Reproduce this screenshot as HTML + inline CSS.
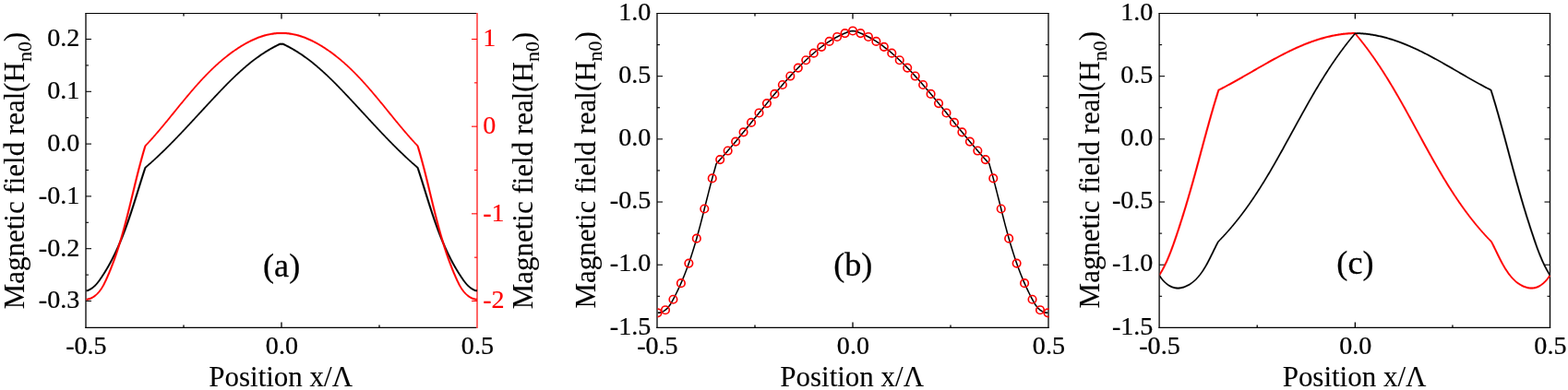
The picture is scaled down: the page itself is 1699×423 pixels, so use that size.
<!DOCTYPE html>
<html lang="en">
<head>
<meta charset="utf-8">
<title>Magnetic field real part vs position</title>
<style>
html,body{margin:0;padding:0;background:#fff;}
body{width:1699px;height:423px;overflow:hidden;}
svg{display:block;}
</style>
</head>
<body>
<svg width="1699" height="423" viewBox="0 0 1699 423" font-family='"Liberation Serif", serif'>
<rect width="1699" height="423" fill="#fff"/>
<defs>
<clipPath id="clipa"><rect x="93.5" y="14.5" width="424.1" height="340.9"/></clipPath>
<clipPath id="clipb"><rect x="712.5" y="14.5" width="424.1" height="340.9"/></clipPath>
<clipPath id="clipc"><rect x="1256.6" y="14.5" width="423.5" height="340.9"/></clipPath>
</defs>
<line x1="92.35" y1="14.5" x2="516.35" y2="14.5" stroke="#000" stroke-width="1.08"/>
<line x1="92.35" y1="355.4" x2="516.35" y2="355.4" stroke="#000" stroke-width="1.08"/>
<line x1="93" y1="14.5" x2="93" y2="355.94" stroke="#000" stroke-width="1.3"/>
<line x1="517" y1="13.96" x2="517" y2="355.94" stroke="#f00" stroke-width="1.2"/>
<line x1="199" y1="355.4" x2="199" y2="352.4" stroke="#000" stroke-width="1.3"/>
<line x1="199" y1="14.5" x2="199" y2="17.5" stroke="#000" stroke-width="1.3"/>
<line x1="305" y1="355.4" x2="305" y2="349.4" stroke="#000" stroke-width="1.3"/>
<line x1="305" y1="14.5" x2="305" y2="20.5" stroke="#000" stroke-width="1.3"/>
<line x1="411" y1="355.4" x2="411" y2="352.4" stroke="#000" stroke-width="1.3"/>
<line x1="411" y1="14.5" x2="411" y2="17.5" stroke="#000" stroke-width="1.3"/>
<line x1="93" y1="326.5" x2="99" y2="326.5" stroke="#000" stroke-width="1.08"/>
<line x1="93" y1="298.1" x2="96" y2="298.1" stroke="#000" stroke-width="1.08"/>
<line x1="93" y1="269.7" x2="99" y2="269.7" stroke="#000" stroke-width="1.08"/>
<line x1="93" y1="241.3" x2="96" y2="241.3" stroke="#000" stroke-width="1.08"/>
<line x1="93" y1="212.9" x2="99" y2="212.9" stroke="#000" stroke-width="1.08"/>
<line x1="93" y1="184.5" x2="96" y2="184.5" stroke="#000" stroke-width="1.08"/>
<line x1="93" y1="156.1" x2="99" y2="156.1" stroke="#000" stroke-width="1.08"/>
<line x1="93" y1="127.7" x2="96" y2="127.7" stroke="#000" stroke-width="1.08"/>
<line x1="93" y1="99.3" x2="99" y2="99.3" stroke="#000" stroke-width="1.08"/>
<line x1="93" y1="70.9" x2="96" y2="70.9" stroke="#000" stroke-width="1.08"/>
<line x1="93" y1="42.5" x2="99" y2="42.5" stroke="#000" stroke-width="1.08"/>
<line x1="517" y1="326.5" x2="511" y2="326.5" stroke="#f00" stroke-width="1.08"/>
<line x1="517" y1="279.17" x2="514" y2="279.17" stroke="#f00" stroke-width="1.08"/>
<line x1="517" y1="231.83" x2="511" y2="231.83" stroke="#f00" stroke-width="1.08"/>
<line x1="517" y1="184.5" x2="514" y2="184.5" stroke="#f00" stroke-width="1.08"/>
<line x1="517" y1="137.17" x2="511" y2="137.17" stroke="#f00" stroke-width="1.08"/>
<line x1="517" y1="89.83" x2="514" y2="89.83" stroke="#f00" stroke-width="1.08"/>
<line x1="517" y1="42.5" x2="511" y2="42.5" stroke="#f00" stroke-width="1.08"/>
<path d="M93.18,316.33 L94.04,316.20 L94.99,316.04 L95.97,315.68 L96.91,315.31 L97.78,314.83 L98.63,314.36 L99.47,313.78 L100.30,313.21 L101.05,312.61 L101.79,312.00 L102.52,311.32 L103.26,310.64 L103.93,309.95 L104.60,309.27 L105.27,308.51 L105.93,307.76 L106.54,307.01 L107.15,306.26 L107.73,305.49 L108.31,304.72 L108.90,303.89 L109.49,303.07 L110.03,302.27 L110.57,301.48 L111.13,300.64 L111.69,299.80 L112.21,299.00 L112.74,298.20 L113.28,297.35 L113.81,296.50 L114.32,295.69 L114.82,294.89 L115.34,294.03 L115.86,293.18 L116.35,292.36 L116.83,291.54 L117.31,290.73 L117.79,289.91 L118.28,289.04 L118.78,288.17 L119.24,287.35 L119.70,286.52 L120.17,285.65 L120.65,284.78 L121.10,283.95 L121.54,283.11 L122.00,282.24 L122.46,281.36 L122.89,280.52 L123.32,279.68 L123.77,278.80 L124.21,277.91 L124.63,277.07 L125.04,276.22 L125.45,275.38 L125.86,274.53 L126.28,273.64 L126.70,272.74 L127.10,271.89 L127.49,271.04 L127.90,270.14 L128.31,269.24 L128.70,268.38 L129.08,267.53 L129.47,266.62 L129.87,265.72 L130.24,264.86 L130.61,264.00 L131.00,263.09 L131.38,262.18 L131.74,261.31 L132.10,260.45 L132.45,259.58 L132.81,258.71 L133.18,257.80 L133.54,256.88 L133.89,256.01 L134.23,255.14 L134.59,254.22 L134.95,253.30 L135.28,252.43 L135.61,251.55 L135.96,250.63 L136.31,249.70 L136.64,248.83 L136.96,247.95 L137.28,247.07 L137.61,246.19 L137.94,245.26 L138.28,244.33 L138.59,243.45 L138.91,242.57 L139.23,241.63 L139.56,240.70 L139.87,239.82 L140.18,238.93 L140.50,238.00 L140.82,237.07 L141.12,236.18 L141.42,235.29 L141.73,234.35 L142.05,233.42 L142.34,232.53 L142.64,231.64 L142.93,230.75 L143.23,229.86 L143.53,228.92 L143.84,227.98 L144.13,227.09 L144.42,226.19 L144.72,225.25 L145.02,224.31 L145.31,223.42 L145.60,222.52 L145.89,221.58 L146.19,220.64 L146.48,219.75 L146.76,218.85 L147.06,217.91 L147.35,216.97 L147.63,216.07 L147.91,215.17 L148.19,214.28 L148.47,213.38 L148.77,212.44 L149.06,211.49 L149.34,210.60 L149.62,209.70 L149.91,208.76 L150.20,207.81 L150.48,206.92 L150.76,206.02 L151.05,205.08 L151.34,204.13 L151.62,203.24 L151.90,202.34 L152.20,201.40 L152.49,200.45 L152.77,199.56 L153.05,198.66 L153.33,197.76 L153.61,196.87 L153.90,195.93 L154.20,194.98 L154.48,194.09 L154.77,193.19 L155.06,192.25 L155.36,191.31 L155.65,190.42 L155.93,189.52 L156.23,188.58 L156.54,187.64 L156.83,186.75 L157.11,185.86 L157.42,184.92 L157.72,183.98 L157.99,183.08 L158.24,182.23 L158.05,182.50 L158.98,181.66 L159.91,180.83 L160.88,179.97 L161.86,179.11 L162.80,178.28 L163.73,177.45 L164.66,176.61 L165.58,175.78 L166.51,174.94 L167.43,174.09 L168.38,173.21 L169.34,172.33 L170.25,171.48 L171.16,170.63 L172.07,169.77 L172.97,168.91 L173.91,168.02 L174.85,167.12 L175.75,166.26 L176.65,165.39 L177.54,164.52 L178.43,163.65 L179.32,162.77 L180.21,161.90 L181.13,160.99 L182.05,160.07 L182.93,159.19 L183.81,158.31 L184.69,157.42 L185.57,156.54 L186.48,155.62 L187.39,154.69 L188.26,153.80 L189.14,152.91 L190.00,152.02 L190.87,151.12 L191.77,150.19 L192.67,149.26 L193.54,148.36 L194.40,147.46 L195.26,146.55 L196.12,145.65 L196.98,144.75 L197.84,143.84 L198.73,142.90 L199.62,141.96 L200.47,141.05 L201.33,140.14 L202.18,139.23 L203.03,138.32 L203.92,137.37 L204.80,136.42 L205.65,135.51 L206.50,134.60 L207.35,133.68 L208.20,132.77 L209.04,131.85 L209.89,130.94 L210.77,129.99 L211.65,129.03 L212.49,128.12 L213.34,127.20 L214.19,126.28 L215.03,125.37 L215.91,124.41 L216.79,123.46 L217.63,122.54 L218.48,121.63 L219.32,120.71 L220.17,119.79 L221.01,118.88 L221.86,117.96 L222.74,117.01 L223.62,116.06 L224.46,115.14 L225.31,114.23 L226.16,113.31 L227.00,112.40 L227.88,111.45 L228.77,110.50 L229.62,109.59 L230.47,108.68 L231.32,107.77 L232.17,106.86 L233.05,105.91 L233.94,104.97 L234.79,104.06 L235.65,103.16 L236.51,102.25 L237.36,101.35 L238.22,100.45 L239.08,99.55 L239.97,98.61 L240.87,97.67 L241.73,96.78 L242.60,95.88 L243.46,94.99 L244.33,94.10 L245.23,93.17 L246.14,92.25 L247.01,91.37 L247.89,90.48 L248.76,89.61 L249.64,88.73 L250.53,87.86 L251.41,86.99 L252.34,86.09 L253.26,85.19 L254.15,84.33 L255.05,83.47 L255.95,82.62 L256.85,81.77 L257.79,80.90 L258.73,80.02 L259.65,79.19 L260.56,78.35 L261.48,77.53 L262.40,76.70 L263.32,75.89 L264.25,75.07 L265.22,74.23 L266.19,73.39 L267.13,72.60 L268.08,71.80 L269.03,71.02 L269.98,70.23 L270.97,69.43 L271.97,68.62 L272.94,67.86 L273.90,67.10 L274.88,66.35 L275.86,65.60 L276.88,64.84 L277.91,64.07 L278.91,63.35 L279.90,62.63 L280.91,61.92 L281.92,61.21 L282.93,60.52 L283.95,59.82 L285.02,59.12 L286.09,58.41 L287.13,57.75 L288.17,57.08 L289.22,56.43 L290.27,55.79 L291.38,55.13 L292.48,54.47 L293.56,53.86 L294.63,53.24 L295.72,52.65 L296.81,52.05 L297.91,51.47 L299.02,50.89 L300.18,50.31 L301.34,49.73 L302.48,49.20 L303.42,48.74 L304.40,48.78 L305.60,48.78 L306.58,48.74 L307.52,49.20 L308.66,49.73 L309.82,50.31 L310.98,50.89 L312.09,51.47 L313.19,52.05 L314.28,52.65 L315.37,53.24 L316.44,53.86 L317.52,54.47 L318.62,55.13 L319.73,55.79 L320.78,56.43 L321.83,57.08 L322.87,57.75 L323.91,58.41 L324.98,59.12 L326.05,59.82 L327.07,60.52 L328.08,61.21 L329.09,61.92 L330.10,62.63 L331.09,63.35 L332.09,64.07 L333.12,64.84 L334.14,65.60 L335.12,66.35 L336.10,67.10 L337.06,67.86 L338.03,68.62 L339.03,69.43 L340.02,70.23 L340.97,71.02 L341.92,71.80 L342.87,72.60 L343.81,73.39 L344.78,74.23 L345.75,75.07 L346.68,75.89 L347.60,76.70 L348.52,77.53 L349.44,78.35 L350.35,79.19 L351.27,80.02 L352.21,80.90 L353.15,81.77 L354.05,82.62 L354.95,83.47 L355.85,84.33 L356.74,85.19 L357.66,86.09 L358.59,86.99 L359.47,87.86 L360.36,88.73 L361.24,89.61 L362.11,90.48 L362.99,91.37 L363.86,92.25 L364.77,93.17 L365.67,94.10 L366.54,94.99 L367.40,95.88 L368.27,96.78 L369.13,97.67 L370.03,98.61 L370.92,99.55 L371.78,100.45 L372.64,101.35 L373.49,102.25 L374.35,103.16 L375.21,104.06 L376.06,104.97 L376.95,105.91 L377.83,106.86 L378.68,107.77 L379.53,108.68 L380.38,109.59 L381.23,110.50 L382.12,111.45 L383.00,112.40 L383.84,113.31 L384.69,114.23 L385.54,115.14 L386.38,116.06 L387.26,117.01 L388.14,117.96 L388.99,118.88 L389.83,119.79 L390.68,120.71 L391.52,121.63 L392.37,122.54 L393.21,123.46 L394.09,124.41 L394.97,125.37 L395.81,126.28 L396.66,127.20 L397.51,128.12 L398.35,129.03 L399.23,129.99 L400.11,130.94 L400.96,131.85 L401.80,132.77 L402.65,133.68 L403.50,134.60 L404.35,135.51 L405.20,136.42 L406.08,137.37 L406.97,138.32 L407.82,139.23 L408.67,140.14 L409.53,141.05 L410.38,141.96 L411.27,142.90 L412.16,143.84 L413.02,144.75 L413.88,145.65 L414.74,146.55 L415.60,147.46 L416.46,148.36 L417.33,149.26 L418.23,150.19 L419.13,151.12 L420.00,152.02 L420.86,152.91 L421.74,153.80 L422.61,154.69 L423.52,155.62 L424.43,156.54 L425.31,157.42 L426.19,158.31 L427.07,159.19 L427.95,160.07 L428.87,160.99 L429.79,161.90 L430.68,162.77 L431.57,163.65 L432.46,164.52 L433.35,165.39 L434.25,166.26 L435.15,167.12 L436.09,168.02 L437.03,168.91 L437.93,169.77 L438.84,170.63 L439.75,171.48 L440.66,172.33 L441.62,173.21 L442.57,174.09 L443.49,174.94 L444.42,175.78 L445.34,176.61 L446.27,177.45 L447.20,178.28 L448.14,179.11 L449.12,179.97 L450.09,180.83 L451.02,181.66 L451.95,182.50 L451.76,182.23 L452.01,183.08 L452.28,183.98 L452.58,184.92 L452.89,185.86 L453.17,186.75 L453.46,187.64 L453.77,188.58 L454.07,189.52 L454.35,190.42 L454.64,191.31 L454.94,192.25 L455.23,193.19 L455.52,194.09 L455.80,194.98 L456.10,195.93 L456.39,196.87 L456.67,197.76 L456.95,198.66 L457.23,199.56 L457.51,200.45 L457.80,201.40 L458.10,202.34 L458.38,203.24 L458.66,204.13 L458.95,205.08 L459.24,206.02 L459.52,206.92 L459.80,207.81 L460.09,208.76 L460.38,209.70 L460.66,210.60 L460.94,211.49 L461.23,212.44 L461.53,213.38 L461.81,214.28 L462.09,215.17 L462.37,216.07 L462.65,216.97 L462.94,217.91 L463.24,218.85 L463.52,219.75 L463.81,220.64 L464.11,221.58 L464.40,222.52 L464.69,223.42 L464.98,224.31 L465.28,225.25 L465.58,226.19 L465.87,227.09 L466.16,227.98 L466.47,228.92 L466.77,229.86 L467.07,230.75 L467.36,231.64 L467.66,232.53 L467.95,233.42 L468.27,234.35 L468.58,235.29 L468.88,236.18 L469.18,237.07 L469.50,238.00 L469.82,238.93 L470.13,239.82 L470.44,240.70 L470.77,241.63 L471.09,242.57 L471.41,243.45 L471.72,244.33 L472.06,245.26 L472.39,246.19 L472.72,247.07 L473.04,247.95 L473.36,248.83 L473.69,249.70 L474.04,250.63 L474.39,251.55 L474.72,252.43 L475.05,253.30 L475.41,254.22 L475.77,255.14 L476.11,256.01 L476.46,256.88 L476.82,257.80 L477.19,258.71 L477.55,259.58 L477.90,260.45 L478.26,261.31 L478.62,262.18 L479.00,263.09 L479.39,264.00 L479.76,264.86 L480.13,265.72 L480.53,266.62 L480.92,267.53 L481.30,268.38 L481.69,269.24 L482.10,270.14 L482.51,271.04 L482.90,271.89 L483.30,272.74 L483.72,273.64 L484.14,274.53 L484.55,275.38 L484.96,276.22 L485.37,277.07 L485.79,277.91 L486.23,278.80 L486.68,279.68 L487.11,280.52 L487.54,281.36 L488.00,282.24 L488.46,283.11 L488.90,283.95 L489.35,284.78 L489.83,285.65 L490.30,286.52 L490.76,287.35 L491.22,288.17 L491.72,289.04 L492.21,289.91 L492.69,290.73 L493.17,291.54 L493.65,292.36 L494.14,293.18 L494.66,294.03 L495.18,294.89 L495.68,295.69 L496.19,296.50 L496.72,297.35 L497.26,298.20 L497.79,299.00 L498.31,299.80 L498.87,300.64 L499.43,301.48 L499.97,302.27 L500.51,303.07 L501.10,303.89 L501.69,304.72 L502.27,305.49 L502.85,306.26 L503.46,307.01 L504.07,307.76 L504.73,308.51 L505.40,309.27 L506.07,309.95 L506.74,310.64 L507.48,311.32 L508.21,312.00 L508.95,312.61 L509.70,313.21 L510.53,313.78 L511.37,314.36 L512.22,314.83 L513.09,315.31 L514.03,315.68 L515.01,316.04 L515.96,316.20 L516.82,316.33 L517.11,314.37 L516.25,314.25 L515.49,314.16 L514.68,313.88 L513.84,313.60 L513.08,313.22 L512.29,312.82 L511.50,312.32 L510.71,311.81 L510.00,311.27 L509.29,310.73 L508.58,310.10 L507.87,309.47 L507.24,308.82 L506.61,308.16 L505.98,307.43 L505.35,306.69 L504.77,305.96 L504.20,305.22 L503.64,304.47 L503.08,303.71 L502.51,302.90 L501.94,302.08 L501.41,301.29 L500.88,300.51 L500.33,299.67 L499.78,298.84 L499.27,298.04 L498.75,297.25 L498.22,296.40 L497.69,295.56 L497.19,294.76 L496.70,293.96 L496.18,293.11 L495.67,292.26 L495.19,291.45 L494.71,290.64 L494.24,289.82 L493.77,289.01 L493.29,288.15 L492.80,287.29 L492.35,286.47 L491.89,285.65 L491.42,284.78 L490.95,283.92 L490.51,283.09 L490.07,282.26 L489.62,281.39 L489.17,280.52 L488.74,279.68 L488.32,278.85 L487.88,277.97 L487.44,277.09 L487.03,276.25 L486.62,275.42 L486.22,274.57 L485.81,273.73 L485.40,272.85 L484.98,271.96 L484.59,271.11 L484.20,270.26 L483.79,269.37 L483.39,268.48 L483.01,267.63 L482.63,266.77 L482.24,265.87 L481.85,264.98 L481.48,264.12 L481.12,263.26 L480.74,262.36 L480.36,261.45 L480.00,260.59 L479.64,259.73 L479.29,258.87 L478.94,258.01 L478.58,257.10 L478.21,256.19 L477.87,255.32 L477.53,254.45 L477.18,253.54 L476.83,252.62 L476.49,251.75 L476.16,250.88 L475.82,249.96 L475.47,249.04 L475.15,248.17 L474.83,247.29 L474.51,246.41 L474.19,245.54 L473.85,244.61 L473.52,243.69 L473.21,242.81 L472.90,241.93 L472.57,241.00 L472.25,240.07 L471.94,239.19 L471.64,238.31 L471.32,237.38 L471.00,236.45 L470.70,235.56 L470.40,234.68 L470.09,233.74 L469.77,232.81 L469.48,231.92 L469.18,231.03 L468.89,230.15 L468.60,229.26 L468.29,228.32 L467.99,227.38 L467.70,226.49 L467.41,225.60 L467.11,224.66 L466.81,223.72 L466.53,222.83 L466.24,221.94 L465.94,221.00 L465.64,220.06 L465.36,219.17 L465.08,218.27 L464.78,217.33 L464.49,216.39 L464.21,215.49 L463.93,214.60 L463.65,213.70 L463.37,212.81 L463.08,211.86 L462.78,210.92 L462.50,210.02 L462.23,209.13 L461.93,208.18 L461.64,207.24 L461.36,206.34 L461.08,205.45 L460.79,204.50 L460.50,203.56 L460.22,202.66 L459.94,201.77 L459.65,200.82 L459.35,199.88 L459.07,198.98 L458.79,198.08 L458.51,197.19 L458.23,196.29 L457.93,195.35 L457.64,194.40 L457.36,193.51 L457.07,192.61 L456.77,191.67 L456.47,190.73 L456.19,189.83 L455.90,188.94 L455.60,187.99 L455.29,187.05 L455.01,186.16 L454.72,185.26 L454.41,184.32 L454.10,183.38 L453.78,182.50 L453.45,181.57 L453.10,181.17 L452.14,180.37 L451.18,179.58 L450.20,178.73 L449.23,177.87 L448.30,177.05 L447.37,176.22 L446.44,175.39 L445.52,174.56 L444.60,173.73 L443.68,172.89 L442.72,172.01 L441.77,171.14 L440.86,170.29 L439.95,169.44 L439.05,168.59 L438.14,167.74 L437.21,166.85 L436.27,165.95 L435.37,165.09 L434.48,164.23 L433.58,163.36 L432.69,162.50 L431.81,161.63 L430.92,160.76 L430.00,159.85 L429.08,158.94 L428.20,158.06 L427.32,157.18 L426.45,156.30 L425.57,155.41 L424.66,154.49 L423.76,153.57 L422.89,152.68 L422.02,151.79 L421.15,150.89 L420.29,150.00 L419.39,149.07 L418.49,148.14 L417.63,147.24 L416.77,146.34 L415.91,145.44 L415.05,144.54 L414.20,143.63 L413.34,142.73 L412.45,141.79 L411.56,140.84 L410.71,139.94 L409.86,139.03 L409.01,138.12 L408.16,137.21 L407.27,136.26 L406.39,135.31 L405.54,134.40 L404.70,133.49 L403.85,132.57 L403.00,131.66 L402.15,130.75 L401.31,129.83 L400.43,128.88 L399.55,127.93 L398.70,127.01 L397.86,126.09 L397.01,125.18 L396.17,124.26 L395.29,123.31 L394.41,122.35 L393.57,121.44 L392.72,120.52 L391.88,119.60 L391.03,118.69 L390.19,117.77 L389.34,116.85 L388.46,115.90 L387.58,114.95 L386.73,114.03 L385.89,113.12 L385.04,112.20 L384.19,111.29 L383.31,110.34 L382.43,109.39 L381.57,108.48 L380.72,107.57 L379.87,106.66 L379.02,105.75 L378.13,104.80 L377.24,103.86 L376.39,102.95 L375.53,102.04 L374.67,101.14 L373.81,100.23 L372.95,99.33 L372.09,98.43 L371.19,97.49 L370.30,96.56 L369.43,95.66 L368.56,94.76 L367.69,93.87 L366.82,92.97 L365.91,92.05 L365.01,91.12 L364.13,90.24 L363.25,89.35 L362.37,88.47 L361.49,87.59 L360.60,86.72 L359.72,85.84 L358.79,84.93 L357.86,84.03 L356.97,83.17 L356.07,82.30 L355.17,81.45 L354.26,80.59 L353.32,79.71 L352.37,78.82 L351.46,77.98 L350.54,77.14 L349.62,76.31 L348.70,75.47 L347.77,74.65 L346.84,73.83 L345.86,72.98 L344.89,72.13 L343.94,71.33 L343.00,70.52 L342.04,69.73 L341.09,68.93 L340.09,68.12 L339.09,67.31 L338.11,66.54 L337.14,65.76 L336.16,65.00 L335.18,64.24 L334.14,63.47 L333.11,62.69 L332.11,61.96 L331.11,61.23 L330.09,60.51 L329.08,59.79 L328.05,59.08 L327.03,58.37 L325.95,57.65 L324.87,56.94 L323.83,56.26 L322.78,55.58 L321.72,54.92 L320.66,54.26 L319.54,53.59 L318.42,52.92 L317.34,52.30 L316.25,51.67 L315.15,51.06 L314.05,50.45 L312.94,49.86 L311.83,49.26 L310.65,48.67 L309.49,48.06 L308.35,47.49 L307.02,46.86 L305.60,46.82 L304.40,46.82 L302.98,46.86 L301.65,47.49 L300.51,48.06 L299.35,48.67 L298.17,49.26 L297.06,49.86 L295.95,50.45 L294.85,51.06 L293.75,51.67 L292.66,52.30 L291.58,52.92 L290.46,53.59 L289.34,54.26 L288.28,54.92 L287.22,55.58 L286.17,56.26 L285.13,56.94 L284.05,57.65 L282.97,58.37 L281.95,59.08 L280.92,59.79 L279.91,60.51 L278.89,61.23 L277.89,61.96 L276.89,62.69 L275.86,63.47 L274.82,64.24 L273.84,65.00 L272.86,65.76 L271.89,66.54 L270.91,67.31 L269.91,68.12 L268.91,68.93 L267.96,69.73 L267.00,70.52 L266.06,71.33 L265.11,72.13 L264.14,72.98 L263.16,73.83 L262.23,74.65 L261.30,75.47 L260.38,76.31 L259.46,77.14 L258.54,77.98 L257.63,78.82 L256.68,79.71 L255.74,80.59 L254.83,81.45 L253.93,82.30 L253.03,83.17 L252.14,84.03 L251.21,84.93 L250.28,85.84 L249.40,86.72 L248.51,87.59 L247.63,88.47 L246.75,89.35 L245.87,90.24 L244.99,91.12 L244.09,92.05 L243.18,92.97 L242.31,93.87 L241.44,94.76 L240.57,95.66 L239.70,96.56 L238.81,97.49 L237.91,98.43 L237.05,99.33 L236.19,100.23 L235.33,101.14 L234.47,102.04 L233.61,102.95 L232.76,103.86 L231.87,104.80 L230.98,105.75 L230.13,106.66 L229.28,107.57 L228.43,108.48 L227.57,109.39 L226.69,110.34 L225.81,111.29 L224.96,112.20 L224.11,113.12 L223.27,114.03 L222.42,114.95 L221.54,115.90 L220.66,116.85 L219.81,117.77 L218.97,118.69 L218.12,119.60 L217.28,120.52 L216.43,121.44 L215.59,122.35 L214.71,123.31 L213.83,124.26 L212.99,125.18 L212.14,126.09 L211.30,127.01 L210.45,127.93 L209.57,128.88 L208.69,129.83 L207.85,130.75 L207.00,131.66 L206.15,132.57 L205.30,133.49 L204.46,134.40 L203.61,135.31 L202.73,136.26 L201.84,137.21 L200.99,138.12 L200.14,139.03 L199.29,139.94 L198.44,140.84 L197.55,141.79 L196.66,142.73 L195.80,143.63 L194.95,144.54 L194.09,145.44 L193.23,146.34 L192.37,147.24 L191.51,148.14 L190.61,149.07 L189.71,150.00 L188.85,150.89 L187.98,151.79 L187.11,152.68 L186.24,153.57 L185.34,154.49 L184.43,155.41 L183.55,156.30 L182.68,157.18 L181.80,158.06 L180.92,158.94 L180.00,159.85 L179.08,160.76 L178.19,161.63 L177.31,162.50 L176.42,163.36 L175.52,164.23 L174.63,165.09 L173.73,165.95 L172.79,166.85 L171.86,167.74 L170.95,168.59 L170.05,169.44 L169.14,170.29 L168.23,171.14 L167.28,172.01 L166.32,172.89 L165.40,173.73 L164.48,174.56 L163.56,175.39 L162.63,176.22 L161.70,177.05 L160.77,177.87 L159.80,178.73 L158.82,179.58 L157.86,180.37 L156.90,181.17 L156.55,181.57 L156.22,182.50 L155.90,183.38 L155.59,184.32 L155.28,185.26 L154.99,186.16 L154.71,187.05 L154.40,187.99 L154.10,188.94 L153.81,189.83 L153.53,190.73 L153.23,191.67 L152.93,192.61 L152.64,193.51 L152.36,194.40 L152.07,195.35 L151.77,196.29 L151.49,197.19 L151.21,198.08 L150.93,198.98 L150.65,199.88 L150.35,200.82 L150.06,201.77 L149.78,202.66 L149.50,203.56 L149.21,204.50 L148.92,205.45 L148.64,206.34 L148.36,207.24 L148.07,208.18 L147.77,209.13 L147.50,210.02 L147.22,210.92 L146.92,211.86 L146.63,212.81 L146.35,213.70 L146.07,214.60 L145.79,215.49 L145.51,216.39 L145.22,217.33 L144.92,218.27 L144.64,219.17 L144.36,220.06 L144.06,221.00 L143.76,221.94 L143.47,222.83 L143.19,223.72 L142.89,224.66 L142.59,225.60 L142.30,226.49 L142.01,227.38 L141.71,228.32 L141.40,229.26 L141.11,230.15 L140.82,231.03 L140.52,231.92 L140.23,232.81 L139.91,233.74 L139.60,234.68 L139.30,235.56 L139.00,236.45 L138.68,237.38 L138.36,238.31 L138.06,239.19 L137.75,240.07 L137.43,241.00 L137.10,241.93 L136.79,242.81 L136.48,243.69 L136.15,244.61 L135.81,245.54 L135.49,246.41 L135.17,247.29 L134.85,248.17 L134.53,249.04 L134.18,249.96 L133.84,250.88 L133.51,251.75 L133.17,252.62 L132.82,253.54 L132.47,254.45 L132.13,255.32 L131.79,256.19 L131.42,257.10 L131.06,258.01 L130.71,258.87 L130.36,259.73 L130.00,260.59 L129.64,261.45 L129.26,262.36 L128.88,263.26 L128.52,264.12 L128.15,264.98 L127.76,265.87 L127.37,266.77 L126.99,267.63 L126.61,268.48 L126.21,269.37 L125.80,270.26 L125.41,271.11 L125.02,271.96 L124.60,272.85 L124.19,273.73 L123.78,274.57 L123.38,275.42 L122.97,276.25 L122.56,277.09 L122.12,277.97 L121.68,278.85 L121.26,279.68 L120.83,280.52 L120.38,281.39 L119.93,282.26 L119.49,283.09 L119.05,283.92 L118.58,284.78 L118.11,285.65 L117.65,286.47 L117.20,287.29 L116.71,288.15 L116.23,289.01 L115.76,289.82 L115.29,290.64 L114.81,291.45 L114.33,292.26 L113.82,293.11 L113.30,293.96 L112.81,294.76 L112.31,295.56 L111.78,296.40 L111.25,297.25 L110.73,298.04 L110.22,298.84 L109.67,299.67 L109.12,300.51 L108.59,301.29 L108.06,302.08 L107.49,302.90 L106.92,303.71 L106.36,304.47 L105.80,305.22 L105.23,305.96 L104.65,306.69 L104.02,307.43 L103.39,308.16 L102.76,308.82 L102.13,309.47 L101.42,310.10 L100.71,310.73 L100.00,311.27 L99.29,311.81 L98.50,312.32 L97.71,312.82 L96.92,313.22 L96.16,313.60 L95.32,313.88 L94.51,314.16 L93.75,314.25 L92.89,314.37Z" fill="#000" stroke="#000" stroke-width="0.15" stroke-linejoin="round" clip-path="url(#clipa)"/>
<path d="M93.13,325.82 L94.21,325.70 L95.36,325.57 L96.50,325.24 L97.63,324.90 L98.73,324.41 L99.81,323.91 L100.85,323.28 L101.89,322.65 L102.86,321.91 L103.83,321.18 L104.73,320.37 L105.63,319.57 L106.45,318.71 L107.28,317.86 L108.05,316.95 L108.81,316.05 L109.51,315.10 L110.21,314.15 L110.89,313.11 L111.56,312.07 L112.15,311.05 L112.74,310.03 L113.30,308.98 L113.85,307.93 L114.37,306.87 L114.89,305.81 L115.39,304.74 L115.88,303.67 L116.37,302.59 L116.85,301.52 L117.32,300.44 L117.79,299.37 L118.26,298.29 L118.72,297.21 L119.17,296.13 L119.62,295.05 L120.07,293.96 L120.51,292.88 L120.94,291.80 L121.38,290.71 L121.80,289.62 L122.23,288.53 L122.65,287.44 L123.06,286.35 L123.47,285.26 L123.88,284.17 L124.28,283.08 L124.68,281.98 L125.07,280.89 L125.47,279.79 L125.85,278.69 L126.24,277.59 L126.62,276.49 L126.99,275.39 L127.36,274.29 L127.73,273.19 L128.10,272.09 L128.46,270.98 L128.84,269.82 L129.21,268.66 L129.56,267.56 L129.91,266.45 L130.26,265.34 L130.60,264.23 L130.94,263.12 L131.28,262.01 L131.61,260.90 L131.95,259.79 L132.28,258.68 L132.60,257.57 L132.93,256.45 L133.25,255.34 L133.57,254.23 L133.88,253.11 L134.20,251.99 L134.51,250.88 L134.82,249.76 L135.13,248.64 L135.43,247.53 L135.74,246.41 L136.04,245.29 L136.34,244.17 L136.64,243.05 L136.93,241.93 L137.23,240.81 L137.52,239.69 L137.81,238.57 L138.10,237.45 L138.39,236.32 L138.68,235.20 L138.96,234.08 L139.25,232.96 L139.53,231.83 L139.81,230.71 L140.09,229.59 L140.37,228.46 L140.65,227.34 L140.93,226.21 L141.22,225.03 L141.51,223.85 L141.79,222.73 L142.06,221.60 L142.33,220.48 L142.61,219.35 L142.88,218.22 L143.15,217.10 L143.43,215.97 L143.70,214.85 L143.97,213.72 L144.24,212.59 L144.51,211.47 L144.79,210.34 L145.06,209.22 L145.33,208.09 L145.60,206.96 L145.87,205.84 L146.14,204.71 L146.42,203.59 L146.69,202.46 L146.96,201.34 L147.24,200.21 L147.51,199.09 L147.79,197.96 L148.06,196.84 L148.34,195.71 L148.61,194.59 L148.89,193.46 L149.17,192.34 L149.45,191.22 L149.73,190.09 L150.01,188.97 L150.30,187.85 L150.58,186.72 L150.87,185.60 L151.15,184.48 L151.44,183.36 L151.73,182.24 L152.02,181.12 L152.33,179.94 L152.64,178.76 L152.94,177.64 L153.23,176.52 L153.53,175.41 L153.84,174.29 L154.14,173.17 L154.44,172.05 L154.75,170.94 L155.06,169.82 L155.38,168.70 L155.69,167.59 L156.01,166.48 L156.32,165.36 L156.65,164.25 L156.97,163.14 L157.30,162.02 L157.63,160.91 L157.93,159.79 L158.24,158.67 L158.06,158.88 L158.84,158.00 L159.65,157.10 L160.51,156.17 L161.38,155.24 L162.20,154.34 L163.02,153.45 L163.83,152.55 L164.65,151.65 L165.50,150.70 L166.35,149.74 L167.16,148.83 L167.96,147.91 L168.76,147.00 L169.57,146.08 L170.41,145.10 L171.25,144.13 L172.04,143.20 L172.84,142.27 L173.67,141.29 L174.50,140.30 L175.29,139.36 L176.08,138.42 L176.87,137.48 L177.65,136.54 L178.48,135.54 L179.31,134.55 L180.09,133.60 L180.87,132.65 L181.65,131.70 L182.43,130.75 L183.25,129.74 L184.08,128.74 L184.86,127.78 L185.63,126.82 L186.41,125.87 L187.19,124.91 L188.01,123.90 L188.83,122.89 L189.61,121.93 L190.39,120.97 L191.17,120.01 L191.95,119.06 L192.77,118.05 L193.59,117.04 L194.37,116.08 L195.15,115.12 L195.97,114.11 L196.79,113.10 L197.58,112.15 L198.36,111.19 L199.15,110.24 L199.93,109.28 L200.76,108.28 L201.59,107.28 L202.38,106.33 L203.17,105.38 L203.96,104.43 L204.75,103.48 L205.59,102.49 L206.43,101.50 L207.23,100.56 L208.03,99.62 L208.83,98.68 L209.63,97.75 L210.48,96.77 L211.33,95.79 L212.14,94.86 L212.96,93.94 L213.77,93.02 L214.59,92.10 L215.45,91.13 L216.31,90.17 L217.14,89.26 L217.97,88.36 L218.80,87.45 L219.63,86.55 L220.51,85.61 L221.39,84.67 L222.23,83.78 L223.08,82.89 L223.97,81.97 L224.87,81.04 L225.72,80.17 L226.58,79.30 L227.45,78.44 L228.31,77.58 L229.23,76.68 L230.15,75.78 L231.03,74.94 L231.91,74.10 L232.80,73.27 L233.69,72.44 L234.63,71.57 L235.58,70.71 L236.48,69.90 L237.39,69.09 L238.31,68.29 L239.22,67.49 L240.19,66.66 L241.17,65.83 L242.10,65.05 L243.03,64.28 L243.97,63.51 L244.92,62.75 L245.92,61.96 L246.92,61.17 L247.89,60.43 L248.85,59.69 L249.83,58.97 L250.80,58.24 L251.84,57.49 L252.87,56.75 L253.87,56.05 L254.86,55.35 L255.93,54.64 L256.99,53.92 L258.01,53.25 L259.03,52.59 L260.06,51.94 L261.09,51.29 L262.19,50.62 L263.29,49.95 L264.34,49.33 L265.40,48.72 L266.46,48.12 L267.53,47.53 L268.66,46.93 L269.80,46.32 L270.89,45.78 L271.97,45.23 L273.07,44.71 L274.17,44.19 L275.34,43.67 L276.51,43.15 L277.62,42.68 L278.74,42.22 L279.87,41.79 L281.00,41.36 L282.19,40.94 L283.39,40.52 L284.54,40.16 L285.68,39.80 L286.90,39.46 L288.11,39.12 L289.28,38.83 L290.44,38.55 L291.61,38.31 L292.78,38.06 L294.02,37.85 L295.26,37.64 L296.44,37.48 L297.63,37.32 L298.82,37.21 L300.01,37.09 L301.27,37.01 L302.53,36.94 L303.73,36.91 L304.92,36.88 L306.19,36.91 L307.47,36.94 L308.73,37.01 L309.99,37.09 L311.18,37.21 L312.37,37.32 L313.56,37.48 L314.74,37.64 L315.98,37.85 L317.22,38.06 L318.39,38.31 L319.56,38.55 L320.72,38.83 L321.89,39.12 L323.10,39.46 L324.32,39.80 L325.46,40.16 L326.61,40.52 L327.81,40.94 L329.00,41.36 L330.13,41.79 L331.26,42.22 L332.38,42.68 L333.49,43.15 L334.66,43.67 L335.83,44.19 L336.93,44.71 L338.03,45.23 L339.11,45.78 L340.20,46.32 L341.34,46.93 L342.47,47.53 L343.54,48.12 L344.60,48.72 L345.66,49.33 L346.71,49.95 L347.81,50.62 L348.91,51.29 L349.94,51.94 L350.97,52.59 L351.99,53.25 L353.01,53.92 L354.07,54.64 L355.14,55.35 L356.13,56.05 L357.13,56.75 L358.16,57.49 L359.20,58.24 L360.17,58.97 L361.15,59.69 L362.11,60.43 L363.08,61.17 L364.08,61.96 L365.08,62.75 L366.03,63.51 L366.97,64.28 L367.90,65.05 L368.83,65.83 L369.81,66.66 L370.78,67.49 L371.69,68.29 L372.61,69.09 L373.52,69.90 L374.42,70.71 L375.37,71.57 L376.31,72.44 L377.20,73.27 L378.09,74.10 L378.97,74.94 L379.85,75.78 L380.77,76.68 L381.69,77.58 L382.55,78.44 L383.42,79.30 L384.28,80.17 L385.13,81.04 L386.03,81.97 L386.92,82.89 L387.77,83.78 L388.61,84.67 L389.49,85.61 L390.37,86.55 L391.20,87.45 L392.03,88.36 L392.86,89.26 L393.69,90.17 L394.55,91.13 L395.41,92.10 L396.23,93.02 L397.04,93.94 L397.86,94.86 L398.67,95.79 L399.52,96.77 L400.37,97.75 L401.17,98.68 L401.97,99.62 L402.77,100.56 L403.57,101.50 L404.41,102.49 L405.25,103.48 L406.04,104.43 L406.83,105.38 L407.62,106.33 L408.41,107.28 L409.24,108.28 L410.07,109.28 L410.85,110.24 L411.64,111.19 L412.42,112.15 L413.21,113.10 L414.03,114.11 L414.85,115.12 L415.63,116.08 L416.41,117.04 L417.23,118.05 L418.05,119.06 L418.83,120.01 L419.61,120.97 L420.39,121.93 L421.17,122.89 L421.99,123.90 L422.81,124.91 L423.59,125.87 L424.37,126.82 L425.14,127.78 L425.92,128.74 L426.75,129.74 L427.57,130.75 L428.35,131.70 L429.13,132.65 L429.91,133.60 L430.69,134.55 L431.52,135.54 L432.35,136.54 L433.13,137.48 L433.92,138.42 L434.71,139.36 L435.50,140.30 L436.33,141.29 L437.16,142.27 L437.96,143.20 L438.75,144.13 L439.59,145.10 L440.43,146.08 L441.24,147.00 L442.04,147.91 L442.84,148.83 L443.65,149.74 L444.50,150.70 L445.35,151.65 L446.17,152.55 L446.98,153.45 L447.80,154.34 L448.62,155.24 L449.49,156.17 L450.35,157.10 L451.16,158.00 L451.94,158.88 L451.76,158.67 L452.07,159.79 L452.37,160.91 L452.70,162.02 L453.03,163.14 L453.35,164.25 L453.68,165.36 L453.99,166.48 L454.31,167.59 L454.62,168.70 L454.94,169.82 L455.25,170.94 L455.56,172.05 L455.86,173.17 L456.16,174.29 L456.47,175.41 L456.77,176.52 L457.06,177.64 L457.36,178.76 L457.67,179.94 L457.98,181.12 L458.27,182.24 L458.56,183.36 L458.85,184.48 L459.13,185.60 L459.42,186.72 L459.70,187.85 L459.99,188.97 L460.27,190.09 L460.55,191.22 L460.83,192.34 L461.11,193.46 L461.39,194.59 L461.66,195.71 L461.94,196.84 L462.21,197.96 L462.49,199.09 L462.76,200.21 L463.04,201.34 L463.31,202.46 L463.58,203.59 L463.86,204.71 L464.13,205.84 L464.40,206.96 L464.67,208.09 L464.94,209.22 L465.21,210.34 L465.49,211.47 L465.76,212.59 L466.03,213.72 L466.30,214.85 L466.57,215.97 L466.85,217.10 L467.12,218.22 L467.39,219.35 L467.67,220.48 L467.94,221.60 L468.21,222.73 L468.49,223.85 L468.78,225.03 L469.07,226.21 L469.35,227.34 L469.63,228.46 L469.91,229.59 L470.19,230.71 L470.47,231.83 L470.75,232.96 L471.04,234.08 L471.32,235.20 L471.61,236.32 L471.90,237.45 L472.19,238.57 L472.48,239.69 L472.77,240.81 L473.07,241.93 L473.36,243.05 L473.66,244.17 L473.96,245.29 L474.26,246.41 L474.57,247.53 L474.87,248.64 L475.18,249.76 L475.49,250.88 L475.80,251.99 L476.12,253.11 L476.43,254.23 L476.75,255.34 L477.07,256.45 L477.40,257.57 L477.72,258.68 L478.05,259.79 L478.39,260.90 L478.72,262.01 L479.06,263.12 L479.40,264.23 L479.74,265.34 L480.09,266.45 L480.44,267.56 L480.79,268.66 L481.16,269.82 L481.54,270.98 L481.90,272.09 L482.27,273.19 L482.64,274.29 L483.01,275.39 L483.38,276.49 L483.76,277.59 L484.15,278.69 L484.53,279.79 L484.93,280.89 L485.32,281.98 L485.72,283.08 L486.12,284.17 L486.53,285.26 L486.94,286.35 L487.35,287.44 L487.77,288.53 L488.20,289.62 L488.62,290.71 L489.06,291.80 L489.49,292.88 L489.93,293.96 L490.38,295.05 L490.83,296.13 L491.28,297.21 L491.74,298.29 L492.21,299.37 L492.68,300.44 L493.15,301.52 L493.63,302.59 L494.12,303.67 L494.61,304.74 L495.11,305.81 L495.63,306.87 L496.15,307.93 L496.70,308.98 L497.26,310.03 L497.85,311.05 L498.44,312.07 L499.11,313.11 L499.79,314.15 L500.49,315.10 L501.19,316.05 L501.95,316.95 L502.72,317.86 L503.55,318.71 L504.37,319.57 L505.27,320.37 L506.17,321.18 L507.14,321.91 L508.11,322.65 L509.15,323.28 L510.19,323.91 L511.27,324.41 L512.37,324.90 L513.50,325.24 L514.64,325.57 L515.79,325.70 L516.87,325.82 L517.08,323.85 L516.00,323.74 L515.01,323.64 L514.02,323.37 L513.01,323.11 L512.02,322.69 L511.02,322.28 L510.05,321.73 L509.08,321.18 L508.16,320.52 L507.23,319.87 L506.37,319.13 L505.51,318.38 L504.73,317.57 L503.95,316.76 L503.24,315.89 L502.53,315.01 L501.89,314.09 L501.23,313.17 L500.60,312.16 L499.97,311.15 L499.41,310.16 L498.85,309.16 L498.32,308.13 L497.79,307.11 L497.29,306.06 L496.78,305.02 L496.30,303.96 L495.81,302.90 L495.34,301.83 L494.86,300.76 L494.39,299.69 L493.93,298.62 L493.47,297.55 L493.01,296.48 L492.57,295.40 L492.12,294.33 L491.68,293.25 L491.24,292.17 L490.81,291.10 L490.38,290.02 L489.96,288.93 L489.54,287.85 L489.13,286.77 L488.71,285.68 L488.31,284.60 L487.91,283.51 L487.51,282.42 L487.11,281.33 L486.72,280.24 L486.33,279.15 L485.95,278.06 L485.57,276.97 L485.20,275.87 L484.82,274.78 L484.45,273.68 L484.09,272.58 L483.73,271.49 L483.37,270.39 L482.99,269.23 L482.62,268.08 L482.27,266.97 L481.93,265.87 L481.58,264.77 L481.24,263.67 L480.91,262.56 L480.57,261.45 L480.24,260.35 L479.91,259.24 L479.58,258.13 L479.26,257.02 L478.94,255.91 L478.62,254.81 L478.30,253.69 L477.98,252.58 L477.67,251.47 L477.36,250.36 L477.05,249.24 L476.75,248.13 L476.44,247.02 L476.14,245.90 L475.84,244.79 L475.54,243.67 L475.25,242.55 L474.95,241.43 L474.66,240.32 L474.37,239.20 L474.08,238.08 L473.79,236.96 L473.50,235.84 L473.21,234.72 L472.93,233.60 L472.65,232.48 L472.36,231.36 L472.08,230.24 L471.80,229.11 L471.52,227.99 L471.25,226.87 L470.97,225.75 L470.68,224.57 L470.39,223.39 L470.11,222.26 L469.84,221.14 L469.57,220.01 L469.29,218.89 L469.02,217.76 L468.75,216.64 L468.47,215.51 L468.20,214.39 L467.93,213.26 L467.66,212.14 L467.39,211.01 L467.12,209.88 L466.84,208.76 L466.57,207.63 L466.30,206.51 L466.03,205.38 L465.76,204.25 L465.48,203.13 L465.21,202.00 L464.94,200.87 L464.66,199.75 L464.39,198.62 L464.11,197.50 L463.84,196.37 L463.56,195.24 L463.28,194.12 L463.00,192.99 L462.72,191.87 L462.44,190.74 L462.16,189.62 L461.88,188.49 L461.60,187.37 L461.31,186.24 L461.02,185.12 L460.74,183.99 L460.45,182.87 L460.15,181.75 L459.86,180.62 L459.55,179.44 L459.24,178.27 L458.95,177.14 L458.65,176.02 L458.34,174.90 L458.04,173.78 L457.74,172.66 L457.43,171.54 L457.12,170.42 L456.81,169.30 L456.49,168.18 L456.18,167.06 L455.86,165.94 L455.54,164.82 L455.21,163.71 L454.89,162.59 L454.56,161.48 L454.23,160.36 L453.87,159.25 L453.50,158.15 L453.26,157.72 L452.39,156.84 L451.54,155.99 L450.68,155.06 L449.82,154.13 L449.01,153.24 L448.19,152.35 L447.38,151.45 L446.58,150.55 L445.73,149.60 L444.88,148.65 L444.08,147.74 L443.28,146.83 L442.48,145.91 L441.69,144.99 L440.85,144.02 L440.01,143.05 L439.22,142.12 L438.43,141.19 L437.60,140.21 L436.77,139.23 L435.99,138.29 L435.20,137.35 L434.42,136.41 L433.63,135.47 L432.81,134.48 L431.99,133.48 L431.21,132.53 L430.42,131.58 L429.65,130.63 L428.87,129.68 L428.05,128.68 L427.23,127.67 L426.45,126.72 L425.67,125.76 L424.89,124.81 L424.11,123.85 L423.29,122.84 L422.47,121.83 L421.70,120.87 L420.92,119.91 L420.14,118.95 L419.36,117.99 L418.54,116.99 L417.72,115.98 L416.94,115.02 L416.15,114.06 L415.33,113.05 L414.51,112.04 L413.72,111.08 L412.94,110.13 L412.15,109.17 L411.36,108.22 L410.53,107.21 L409.70,106.21 L408.91,105.26 L408.11,104.31 L407.32,103.36 L406.52,102.41 L405.68,101.42 L404.84,100.42 L404.04,99.48 L403.23,98.54 L402.43,97.60 L401.62,96.67 L400.77,95.68 L399.91,94.70 L399.10,93.77 L398.28,92.85 L397.46,91.92 L396.64,91.00 L395.77,90.04 L394.90,89.07 L394.07,88.16 L393.24,87.25 L392.40,86.35 L391.56,85.44 L390.68,84.50 L389.79,83.55 L388.94,82.66 L388.09,81.77 L387.19,80.84 L386.28,79.92 L385.42,79.04 L384.56,78.17 L383.69,77.30 L382.82,76.43 L381.90,75.53 L380.97,74.62 L380.09,73.77 L379.20,72.92 L378.31,72.08 L377.42,71.24 L376.47,70.37 L375.52,69.49 L374.61,68.67 L373.70,67.85 L372.78,67.04 L371.87,66.24 L370.89,65.40 L369.91,64.56 L368.97,63.77 L368.03,62.98 L367.09,62.21 L366.14,61.43 L365.13,60.63 L364.12,59.83 L363.15,59.08 L362.18,58.33 L361.20,57.59 L360.22,56.86 L359.18,56.10 L358.13,55.34 L357.13,54.63 L356.13,53.92 L355.06,53.19 L353.99,52.46 L352.96,51.78 L351.93,51.10 L350.89,50.44 L349.85,49.78 L348.74,49.10 L347.63,48.42 L346.57,47.79 L345.50,47.16 L344.42,46.55 L343.34,45.94 L342.20,45.32 L341.05,44.70 L339.94,44.14 L338.84,43.58 L337.73,43.04 L336.61,42.50 L335.43,41.96 L334.24,41.43 L333.10,40.95 L331.96,40.47 L330.81,40.02 L329.66,39.57 L328.44,39.14 L327.22,38.70 L326.05,38.32 L324.87,37.95 L323.63,37.59 L322.39,37.23 L321.19,36.94 L320.00,36.64 L318.80,36.38 L317.59,36.13 L316.32,35.90 L315.04,35.68 L313.82,35.51 L312.60,35.35 L311.37,35.23 L310.15,35.10 L308.85,35.02 L307.56,34.94 L306.24,34.91 L304.92,34.88 L303.68,34.91 L302.44,34.94 L301.15,35.02 L299.85,35.10 L298.63,35.23 L297.40,35.35 L296.18,35.51 L294.96,35.68 L293.68,35.90 L292.41,36.13 L291.20,36.38 L290.00,36.64 L288.81,36.94 L287.61,37.23 L286.37,37.59 L285.13,37.95 L283.95,38.32 L282.78,38.70 L281.56,39.14 L280.34,39.57 L279.19,40.02 L278.04,40.47 L276.90,40.95 L275.76,41.43 L274.57,41.96 L273.39,42.50 L272.27,43.04 L271.16,43.58 L270.06,44.14 L268.95,44.70 L267.80,45.32 L266.66,45.94 L265.58,46.55 L264.50,47.16 L263.43,47.79 L262.37,48.42 L261.26,49.10 L260.15,49.78 L259.11,50.44 L258.07,51.10 L257.04,51.78 L256.01,52.46 L254.94,53.19 L253.87,53.92 L252.87,54.63 L251.87,55.34 L250.82,56.10 L249.78,56.86 L248.80,57.59 L247.82,58.33 L246.85,59.08 L245.88,59.83 L244.87,60.63 L243.86,61.43 L242.91,62.21 L241.97,62.98 L241.03,63.77 L240.09,64.56 L239.11,65.40 L238.13,66.24 L237.22,67.04 L236.30,67.85 L235.39,68.67 L234.48,69.49 L233.53,70.37 L232.58,71.24 L231.69,72.08 L230.80,72.92 L229.91,73.77 L229.03,74.62 L228.10,75.53 L227.18,76.43 L226.31,77.30 L225.44,78.17 L224.58,79.04 L223.72,79.92 L222.81,80.84 L221.91,81.77 L221.06,82.66 L220.21,83.55 L219.32,84.50 L218.44,85.44 L217.60,86.35 L216.76,87.25 L215.93,88.16 L215.10,89.07 L214.23,90.04 L213.36,91.00 L212.54,91.92 L211.72,92.85 L210.90,93.77 L210.09,94.70 L209.23,95.68 L208.38,96.67 L207.57,97.60 L206.77,98.54 L205.96,99.48 L205.16,100.42 L204.32,101.42 L203.48,102.41 L202.68,103.36 L201.89,104.31 L201.09,105.26 L200.30,106.21 L199.47,107.21 L198.64,108.22 L197.85,109.17 L197.06,110.13 L196.28,111.08 L195.49,112.04 L194.67,113.05 L193.85,114.06 L193.06,115.02 L192.28,115.98 L191.46,116.99 L190.64,117.99 L189.86,118.95 L189.08,119.91 L188.30,120.87 L187.53,121.83 L186.71,122.84 L185.89,123.85 L185.11,124.81 L184.33,125.76 L183.55,126.72 L182.77,127.67 L181.95,128.68 L181.13,129.68 L180.35,130.63 L179.58,131.58 L178.79,132.53 L178.01,133.48 L177.19,134.48 L176.37,135.47 L175.58,136.41 L174.80,137.35 L174.01,138.29 L173.23,139.23 L172.40,140.21 L171.57,141.19 L170.78,142.12 L169.99,143.05 L169.15,144.02 L168.31,144.99 L167.52,145.91 L166.72,146.83 L165.92,147.74 L165.12,148.65 L164.27,149.60 L163.42,150.55 L162.62,151.45 L161.81,152.35 L160.99,153.24 L160.18,154.13 L159.32,155.06 L158.46,155.99 L157.61,156.84 L156.74,157.72 L156.50,158.15 L156.13,159.25 L155.77,160.36 L155.44,161.48 L155.11,162.59 L154.79,163.71 L154.46,164.82 L154.14,165.94 L153.82,167.06 L153.51,168.18 L153.19,169.30 L152.88,170.42 L152.57,171.54 L152.26,172.66 L151.96,173.78 L151.66,174.90 L151.35,176.02 L151.05,177.14 L150.76,178.27 L150.45,179.44 L150.14,180.62 L149.85,181.75 L149.55,182.87 L149.26,183.99 L148.98,185.12 L148.69,186.24 L148.40,187.37 L148.12,188.49 L147.84,189.62 L147.56,190.74 L147.28,191.87 L147.00,192.99 L146.72,194.12 L146.44,195.24 L146.16,196.37 L145.89,197.50 L145.61,198.62 L145.34,199.75 L145.06,200.87 L144.79,202.00 L144.52,203.13 L144.24,204.25 L143.97,205.38 L143.70,206.51 L143.43,207.63 L143.16,208.76 L142.88,209.88 L142.61,211.01 L142.34,212.14 L142.07,213.26 L141.80,214.39 L141.53,215.51 L141.25,216.64 L140.98,217.76 L140.71,218.89 L140.43,220.01 L140.16,221.14 L139.89,222.26 L139.61,223.39 L139.32,224.57 L139.03,225.75 L138.75,226.87 L138.48,227.99 L138.20,229.11 L137.92,230.24 L137.64,231.36 L137.35,232.48 L137.07,233.60 L136.79,234.72 L136.50,235.84 L136.21,236.96 L135.92,238.08 L135.63,239.20 L135.34,240.32 L135.05,241.43 L134.75,242.55 L134.46,243.67 L134.16,244.79 L133.86,245.90 L133.56,247.02 L133.25,248.13 L132.95,249.24 L132.64,250.36 L132.33,251.47 L132.02,252.58 L131.70,253.69 L131.38,254.81 L131.06,255.91 L130.74,257.02 L130.42,258.13 L130.09,259.24 L129.76,260.35 L129.43,261.45 L129.09,262.56 L128.76,263.67 L128.42,264.77 L128.07,265.87 L127.73,266.97 L127.38,268.08 L127.01,269.23 L126.63,270.39 L126.27,271.49 L125.91,272.58 L125.55,273.68 L125.18,274.78 L124.80,275.87 L124.43,276.97 L124.05,278.06 L123.67,279.15 L123.28,280.24 L122.89,281.33 L122.49,282.42 L122.09,283.51 L121.69,284.60 L121.29,285.68 L120.87,286.77 L120.46,287.85 L120.04,288.93 L119.62,290.02 L119.19,291.10 L118.76,292.17 L118.32,293.25 L117.88,294.33 L117.43,295.40 L116.99,296.48 L116.53,297.55 L116.07,298.62 L115.61,299.69 L115.14,300.76 L114.66,301.83 L114.19,302.90 L113.70,303.96 L113.22,305.02 L112.71,306.06 L112.21,307.11 L111.68,308.13 L111.15,309.16 L110.59,310.16 L110.03,311.15 L109.40,312.16 L108.77,313.17 L108.11,314.09 L107.47,315.01 L106.76,315.89 L106.05,316.76 L105.27,317.57 L104.49,318.38 L103.63,319.13 L102.77,319.87 L101.84,320.52 L100.92,321.18 L99.95,321.73 L98.98,322.28 L97.98,322.69 L96.99,323.11 L95.98,323.37 L94.99,323.64 L94.00,323.74 L92.92,323.85Z" fill="#f00" stroke="#f00" stroke-width="0.15" stroke-linejoin="round" clip-path="url(#clipa)"/>
<text transform="translate(86.3,50.4) scale(1.015,1)" font-size="27.7" text-anchor="end" fill="#000" stroke="#000" stroke-width="0.25">0.2</text>
<text transform="translate(86.3,107.2) scale(1.015,1)" font-size="27.7" text-anchor="end" fill="#000" stroke="#000" stroke-width="0.25">0.1</text>
<text transform="translate(86.3,164) scale(1.015,1)" font-size="27.7" text-anchor="end" fill="#000" stroke="#000" stroke-width="0.25">0.0</text>
<text transform="translate(86.3,220.8) scale(1.015,1)" font-size="27.7" text-anchor="end" fill="#000" stroke="#000" stroke-width="0.25">-0.1</text>
<text transform="translate(86.3,277.6) scale(1.015,1)" font-size="27.7" text-anchor="end" fill="#000" stroke="#000" stroke-width="0.25">-0.2</text>
<text transform="translate(86.3,334.4) scale(1.015,1)" font-size="27.7" text-anchor="end" fill="#000" stroke="#000" stroke-width="0.25">-0.3</text>
<text transform="translate(523.2,50.3) scale(1.015,1)" font-size="27.7" text-anchor="start" fill="#f00" stroke="#f00" stroke-width="0.15">1</text>
<text transform="translate(523.2,144.97) scale(1.015,1)" font-size="27.7" text-anchor="start" fill="#f00" stroke="#f00" stroke-width="0.15">0</text>
<text transform="translate(523.2,239.63) scale(1.015,1)" font-size="27.7" text-anchor="start" fill="#f00" stroke="#f00" stroke-width="0.15">-1</text>
<text transform="translate(523.2,334.3) scale(1.015,1)" font-size="27.7" text-anchor="start" fill="#f00" stroke="#f00" stroke-width="0.15">-2</text>
<text transform="translate(93.4,383.7) scale(1.015,1)" font-size="27.7" text-anchor="middle" fill="#000" stroke="#000" stroke-width="0.25">-0.5</text>
<text transform="translate(305.4,383.7) scale(1.015,1)" font-size="27.7" text-anchor="middle" fill="#000" stroke="#000" stroke-width="0.25">0.0</text>
<text transform="translate(517.4,383.7) scale(1.015,1)" font-size="27.7" text-anchor="middle" fill="#000" stroke="#000" stroke-width="0.25">0.5</text>
<text transform="translate(304.2,419) scale(0.996,1)" font-size="31.1" text-anchor="middle" fill="#000" stroke="#000" stroke-width="0.1">Position x/Λ</text>
<text transform="translate(25.9,185) rotate(-90) scale(0.996,1)" font-size="31.1" text-anchor="middle" fill="#000" stroke="#000" stroke-width="0.1">Magnetic field real(H<tspan font-size="22" dy="7.7">n0</tspan><tspan dy="-7.7">)</tspan></text>
<text transform="translate(576.6,185) rotate(-90) scale(0.996,1)" font-size="31.1" text-anchor="middle" fill="#000" stroke="#000" stroke-width="0.1">Magnetic field real(H<tspan font-size="22" dy="7.7">n0</tspan><tspan dy="-7.7">)</tspan></text>
<text transform="translate(305.1,299.9) scale(1.02,1)" font-size="35.5" text-anchor="middle" fill="#000" stroke="#000" stroke-width="0.25">(a)</text>
<line x1="711.35" y1="14.5" x2="1136.65" y2="14.5" stroke="#000" stroke-width="1.08"/>
<line x1="711.35" y1="355.4" x2="1136.65" y2="355.4" stroke="#000" stroke-width="1.08"/>
<line x1="712" y1="14.5" x2="712" y2="355.94" stroke="#000" stroke-width="1.3"/>
<line x1="1136" y1="14.5" x2="1136" y2="355.94" stroke="#000" stroke-width="1.3"/>
<line x1="818" y1="355.4" x2="818" y2="352.4" stroke="#000" stroke-width="1.3"/>
<line x1="818" y1="14.5" x2="818" y2="17.5" stroke="#000" stroke-width="1.3"/>
<line x1="924" y1="355.4" x2="924" y2="349.4" stroke="#000" stroke-width="1.3"/>
<line x1="924" y1="14.5" x2="924" y2="20.5" stroke="#000" stroke-width="1.3"/>
<line x1="1030" y1="355.4" x2="1030" y2="352.4" stroke="#000" stroke-width="1.3"/>
<line x1="1030" y1="14.5" x2="1030" y2="17.5" stroke="#000" stroke-width="1.3"/>
<line x1="712" y1="321.31" x2="715" y2="321.31" stroke="#000" stroke-width="1.08"/>
<line x1="1136" y1="321.31" x2="1133" y2="321.31" stroke="#000" stroke-width="1.08"/>
<line x1="712" y1="287.22" x2="718" y2="287.22" stroke="#000" stroke-width="1.08"/>
<line x1="1136" y1="287.22" x2="1130" y2="287.22" stroke="#000" stroke-width="1.08"/>
<line x1="712" y1="253.13" x2="715" y2="253.13" stroke="#000" stroke-width="1.08"/>
<line x1="1136" y1="253.13" x2="1133" y2="253.13" stroke="#000" stroke-width="1.08"/>
<line x1="712" y1="219.04" x2="718" y2="219.04" stroke="#000" stroke-width="1.08"/>
<line x1="1136" y1="219.04" x2="1130" y2="219.04" stroke="#000" stroke-width="1.08"/>
<line x1="712" y1="184.95" x2="715" y2="184.95" stroke="#000" stroke-width="1.08"/>
<line x1="1136" y1="184.95" x2="1133" y2="184.95" stroke="#000" stroke-width="1.08"/>
<line x1="712" y1="150.86" x2="718" y2="150.86" stroke="#000" stroke-width="1.08"/>
<line x1="1136" y1="150.86" x2="1130" y2="150.86" stroke="#000" stroke-width="1.08"/>
<line x1="712" y1="116.77" x2="715" y2="116.77" stroke="#000" stroke-width="1.08"/>
<line x1="1136" y1="116.77" x2="1133" y2="116.77" stroke="#000" stroke-width="1.08"/>
<line x1="712" y1="82.68" x2="718" y2="82.68" stroke="#000" stroke-width="1.08"/>
<line x1="1136" y1="82.68" x2="1130" y2="82.68" stroke="#000" stroke-width="1.08"/>
<line x1="712" y1="48.59" x2="715" y2="48.59" stroke="#000" stroke-width="1.08"/>
<line x1="1136" y1="48.59" x2="1133" y2="48.59" stroke="#000" stroke-width="1.08"/>
<path d="M712.62,339.32 L714.81,339.13 L716.85,338.56 L718.92,337.59 L720.75,336.40 L722.49,334.92 L723.97,333.35 L725.40,331.52 L726.63,329.70 L727.84,327.67 L728.92,325.71 L730.04,323.61 L731.06,321.63 L732.13,319.52 L733.12,317.52 L734.15,315.40 L735.09,313.40 L736.08,311.27 L736.99,309.25 L737.93,307.11 L738.80,305.09 L739.71,302.94 L740.55,300.91 L741.43,298.75 L742.23,296.71 L743.07,294.54 L743.85,292.50 L744.66,290.32 L745.45,288.14 L746.18,286.08 L746.95,283.89 L747.66,281.83 L748.39,279.64 L749.08,277.57 L749.79,275.37 L750.45,273.29 L751.14,271.08 L751.78,269.00 L752.45,266.79 L753.07,264.70 L753.72,262.48 L754.32,260.39 L754.96,258.17 L755.55,256.08 L756.16,253.85 L756.74,251.75 L757.34,249.52 L757.90,247.42 L758.50,245.18 L759.05,243.08 L759.63,240.84 L760.18,238.73 L760.75,236.49 L761.32,234.25 L761.86,232.14 L762.43,229.89 L762.96,227.78 L763.52,225.53 L764.05,223.42 L764.62,221.17 L765.15,219.06 L765.71,216.81 L766.24,214.69 L766.81,212.44 L767.34,210.33 L767.91,208.08 L768.45,205.96 L769.03,203.72 L769.58,201.60 L770.16,199.36 L770.72,197.24 L771.31,195.00 L771.88,192.88 L772.49,190.64 L773.07,188.53 L773.69,186.29 L774.28,184.18 L774.92,181.94 L775.53,179.84 L776.18,177.42 L776.18,177.42 L778.54,174.88 L780.91,172.30 L783.27,169.68 L785.63,167.01 L787.99,164.31 L790.35,161.57 L792.72,158.81 L795.08,156.01 L797.44,153.19 L799.80,150.35 L802.16,147.49 L804.53,144.61 L806.89,141.72 L809.25,138.82 L811.61,135.91 L813.97,132.99 L816.34,130.07 L818.70,127.15 L821.06,124.23 L823.42,121.31 L825.78,118.40 L828.15,115.50 L830.51,112.62 L832.87,109.74 L835.23,106.89 L837.59,104.05 L839.96,101.24 L842.32,98.45 L844.68,95.69 L847.04,92.96 L849.40,90.25 L851.77,87.58 L854.13,84.95 L856.49,82.36 L858.85,79.80 L861.21,77.29 L863.58,74.83 L865.94,72.41 L868.30,70.04 L870.66,67.72 L873.02,65.45 L875.39,63.24 L877.75,61.09 L880.11,59.00 L882.47,56.97 L884.84,55.00 L887.20,53.10 L889.56,51.26 L891.92,49.49 L894.28,47.80 L896.65,46.18 L899.01,44.63 L901.37,43.16 L903.73,41.77 L906.09,40.46 L908.46,39.23 L910.82,38.09 L913.18,37.03 L915.54,36.06 L919.77,34.20 L921.89,33.67 L924.00,33.45 L926.11,33.67 L928.23,34.20 L932.46,36.06 L934.82,37.03 L937.18,38.09 L939.54,39.23 L941.91,40.46 L944.27,41.77 L946.63,43.16 L948.99,44.63 L951.35,46.18 L953.72,47.80 L956.08,49.49 L958.44,51.26 L960.80,53.10 L963.16,55.00 L965.53,56.97 L967.89,59.00 L970.25,61.09 L972.61,63.24 L974.98,65.45 L977.34,67.72 L979.70,70.04 L982.06,72.41 L984.42,74.83 L986.79,77.29 L989.15,79.80 L991.51,82.36 L993.87,84.95 L996.23,87.58 L998.60,90.25 L1000.96,92.96 L1003.32,95.69 L1005.68,98.45 L1008.04,101.24 L1010.41,104.05 L1012.77,106.89 L1015.13,109.74 L1017.49,112.62 L1019.85,115.50 L1022.22,118.40 L1024.58,121.31 L1026.94,124.23 L1029.30,127.15 L1031.66,130.07 L1034.03,132.99 L1036.39,135.91 L1038.75,138.82 L1041.11,141.72 L1043.47,144.61 L1045.84,147.49 L1048.20,150.35 L1050.56,153.19 L1052.92,156.01 L1055.28,158.81 L1057.65,161.57 L1060.01,164.31 L1062.37,167.01 L1064.73,169.68 L1067.09,172.30 L1069.46,174.88 L1071.82,177.42 L1071.82,177.42 L1072.47,179.84 L1073.08,181.94 L1073.72,184.18 L1074.31,186.29 L1074.93,188.53 L1075.51,190.64 L1076.12,192.88 L1076.69,195.00 L1077.28,197.24 L1077.84,199.36 L1078.42,201.60 L1078.97,203.72 L1079.55,205.96 L1080.09,208.08 L1080.66,210.33 L1081.19,212.44 L1081.76,214.69 L1082.29,216.81 L1082.85,219.06 L1083.38,221.17 L1083.95,223.42 L1084.48,225.53 L1085.04,227.78 L1085.57,229.89 L1086.14,232.14 L1086.68,234.25 L1087.25,236.49 L1087.82,238.73 L1088.37,240.84 L1088.95,243.08 L1089.50,245.18 L1090.10,247.42 L1090.66,249.52 L1091.26,251.75 L1091.84,253.85 L1092.45,256.08 L1093.04,258.17 L1093.68,260.39 L1094.28,262.48 L1094.93,264.70 L1095.55,266.79 L1096.22,269.00 L1096.86,271.08 L1097.55,273.29 L1098.21,275.37 L1098.92,277.57 L1099.61,279.64 L1100.34,281.83 L1101.05,283.89 L1101.82,286.08 L1102.55,288.14 L1103.34,290.32 L1104.15,292.50 L1104.93,294.54 L1105.77,296.71 L1106.57,298.75 L1107.45,300.91 L1108.29,302.94 L1109.20,305.09 L1110.07,307.11 L1111.01,309.25 L1111.92,311.27 L1112.91,313.40 L1113.85,315.40 L1114.88,317.52 L1115.87,319.52 L1116.94,321.63 L1117.96,323.61 L1119.08,325.71 L1120.16,327.67 L1121.37,329.70 L1122.60,331.52 L1124.03,333.35 L1125.51,334.92 L1127.25,336.40 L1129.08,337.59 L1131.15,338.56 L1133.19,339.13 L1135.38,339.32" fill="none" stroke="#000" stroke-width="1.55" stroke-linejoin="round" clip-path="url(#clipb)"/>
<g clip-path="url(#clipb)" fill="none" stroke="#f00" stroke-width="1.65">
<circle cx="712.53" cy="339.32" r="4.25"/>
<circle cx="720.99" cy="336.20" r="4.25"/>
<circle cx="729.45" cy="324.72" r="4.25"/>
<circle cx="737.91" cy="307.17" r="4.25"/>
<circle cx="746.37" cy="285.56" r="4.25"/>
<circle cx="754.82" cy="258.64" r="4.25"/>
<circle cx="763.28" cy="226.49" r="4.25"/>
<circle cx="771.74" cy="193.40" r="4.25"/>
<circle cx="780.20" cy="173.07" r="4.25"/>
<circle cx="788.66" cy="163.54" r="4.25"/>
<circle cx="797.12" cy="153.58" r="4.25"/>
<circle cx="805.58" cy="143.33" r="4.25"/>
<circle cx="814.04" cy="132.91" r="4.25"/>
<circle cx="822.49" cy="122.46" r="4.25"/>
<circle cx="830.95" cy="112.08" r="4.25"/>
<circle cx="839.41" cy="101.89" r="4.25"/>
<circle cx="847.87" cy="92.01" r="4.25"/>
<circle cx="856.33" cy="82.54" r="4.25"/>
<circle cx="864.79" cy="73.59" r="4.25"/>
<circle cx="873.25" cy="65.25" r="4.25"/>
<circle cx="881.71" cy="57.63" r="4.25"/>
<circle cx="890.16" cy="50.81" r="4.25"/>
<circle cx="898.62" cy="44.88" r="4.25"/>
<circle cx="907.08" cy="39.95" r="4.25"/>
<circle cx="915.54" cy="36.06" r="4.25"/>
<circle cx="924.00" cy="33.45" r="4.25"/>
<circle cx="932.46" cy="36.06" r="4.25"/>
<circle cx="940.92" cy="39.95" r="4.25"/>
<circle cx="949.38" cy="44.88" r="4.25"/>
<circle cx="957.84" cy="50.81" r="4.25"/>
<circle cx="966.29" cy="57.63" r="4.25"/>
<circle cx="974.75" cy="65.25" r="4.25"/>
<circle cx="983.21" cy="73.59" r="4.25"/>
<circle cx="991.67" cy="82.54" r="4.25"/>
<circle cx="1000.13" cy="92.01" r="4.25"/>
<circle cx="1008.59" cy="101.89" r="4.25"/>
<circle cx="1017.05" cy="112.08" r="4.25"/>
<circle cx="1025.51" cy="122.46" r="4.25"/>
<circle cx="1033.96" cy="132.91" r="4.25"/>
<circle cx="1042.42" cy="143.33" r="4.25"/>
<circle cx="1050.88" cy="153.58" r="4.25"/>
<circle cx="1059.34" cy="163.54" r="4.25"/>
<circle cx="1067.80" cy="173.07" r="4.25"/>
<circle cx="1076.26" cy="193.40" r="4.25"/>
<circle cx="1084.72" cy="226.49" r="4.25"/>
<circle cx="1093.18" cy="258.64" r="4.25"/>
<circle cx="1101.63" cy="285.56" r="4.25"/>
<circle cx="1110.09" cy="307.17" r="4.25"/>
<circle cx="1118.55" cy="324.72" r="4.25"/>
<circle cx="1127.01" cy="336.20" r="4.25"/>
<circle cx="1135.47" cy="339.32" r="4.25"/>
</g>
<text transform="translate(705.3,21.7) scale(1.015,1)" font-size="27.7" text-anchor="end" fill="#000" stroke="#000" stroke-width="0.25">1.0</text>
<text transform="translate(705.3,89.88) scale(1.015,1)" font-size="27.7" text-anchor="end" fill="#000" stroke="#000" stroke-width="0.25">0.5</text>
<text transform="translate(705.3,158.06) scale(1.015,1)" font-size="27.7" text-anchor="end" fill="#000" stroke="#000" stroke-width="0.25">0.0</text>
<text transform="translate(705.3,226.24) scale(1.015,1)" font-size="27.7" text-anchor="end" fill="#000" stroke="#000" stroke-width="0.25">-0.5</text>
<text transform="translate(705.3,294.42) scale(1.015,1)" font-size="27.7" text-anchor="end" fill="#000" stroke="#000" stroke-width="0.25">-1.0</text>
<text transform="translate(705.3,362.6) scale(1.015,1)" font-size="27.7" text-anchor="end" fill="#000" stroke="#000" stroke-width="0.25">-1.5</text>
<text transform="translate(712.4,383.7) scale(1.015,1)" font-size="27.7" text-anchor="middle" fill="#000" stroke="#000" stroke-width="0.25">-0.5</text>
<text transform="translate(924.4,383.7) scale(1.015,1)" font-size="27.7" text-anchor="middle" fill="#000" stroke="#000" stroke-width="0.25">0.0</text>
<text transform="translate(1136.4,383.7) scale(1.015,1)" font-size="27.7" text-anchor="middle" fill="#000" stroke="#000" stroke-width="0.25">0.5</text>
<text transform="translate(923.2,419) scale(0.996,1)" font-size="31.1" text-anchor="middle" fill="#000" stroke="#000" stroke-width="0.1">Position x/Λ</text>
<text transform="translate(644.6,184.4) rotate(-90) scale(0.996,1)" font-size="31.1" text-anchor="middle" fill="#000" stroke="#000" stroke-width="0.1">Magnetic field real(H<tspan font-size="22" dy="7.7">n0</tspan><tspan dy="-7.7">)</tspan></text>
<text transform="translate(924.3,298.5) scale(1.02,1)" font-size="35.5" text-anchor="middle" fill="#000" stroke="#000" stroke-width="0.25">(b)</text>
<line x1="1255.45" y1="14.5" x2="1680.15" y2="14.5" stroke="#000" stroke-width="1.08"/>
<line x1="1255.45" y1="355.4" x2="1680.15" y2="355.4" stroke="#000" stroke-width="1.08"/>
<line x1="1256.1" y1="14.5" x2="1256.1" y2="355.94" stroke="#000" stroke-width="1.3"/>
<line x1="1679.5" y1="14.5" x2="1679.5" y2="355.94" stroke="#000" stroke-width="1.3"/>
<line x1="1362.22" y1="355.4" x2="1362.22" y2="352.4" stroke="#000" stroke-width="1.3"/>
<line x1="1362.22" y1="14.5" x2="1362.22" y2="17.5" stroke="#000" stroke-width="1.3"/>
<line x1="1468.35" y1="355.4" x2="1468.35" y2="349.4" stroke="#000" stroke-width="1.3"/>
<line x1="1468.35" y1="14.5" x2="1468.35" y2="20.5" stroke="#000" stroke-width="1.3"/>
<line x1="1573.92" y1="355.4" x2="1573.92" y2="352.4" stroke="#000" stroke-width="1.3"/>
<line x1="1573.92" y1="14.5" x2="1573.92" y2="17.5" stroke="#000" stroke-width="1.3"/>
<line x1="1256.1" y1="321.31" x2="1259.1" y2="321.31" stroke="#000" stroke-width="1.08"/>
<line x1="1679.5" y1="321.31" x2="1676.5" y2="321.31" stroke="#000" stroke-width="1.08"/>
<line x1="1256.1" y1="287.22" x2="1262.1" y2="287.22" stroke="#000" stroke-width="1.08"/>
<line x1="1679.5" y1="287.22" x2="1673.5" y2="287.22" stroke="#000" stroke-width="1.08"/>
<line x1="1256.1" y1="253.13" x2="1259.1" y2="253.13" stroke="#000" stroke-width="1.08"/>
<line x1="1679.5" y1="253.13" x2="1676.5" y2="253.13" stroke="#000" stroke-width="1.08"/>
<line x1="1256.1" y1="219.04" x2="1262.1" y2="219.04" stroke="#000" stroke-width="1.08"/>
<line x1="1679.5" y1="219.04" x2="1673.5" y2="219.04" stroke="#000" stroke-width="1.08"/>
<line x1="1256.1" y1="184.95" x2="1259.1" y2="184.95" stroke="#000" stroke-width="1.08"/>
<line x1="1679.5" y1="184.95" x2="1676.5" y2="184.95" stroke="#000" stroke-width="1.08"/>
<line x1="1256.1" y1="150.86" x2="1262.1" y2="150.86" stroke="#000" stroke-width="1.08"/>
<line x1="1679.5" y1="150.86" x2="1673.5" y2="150.86" stroke="#000" stroke-width="1.08"/>
<line x1="1256.1" y1="116.77" x2="1259.1" y2="116.77" stroke="#000" stroke-width="1.08"/>
<line x1="1679.5" y1="116.77" x2="1676.5" y2="116.77" stroke="#000" stroke-width="1.08"/>
<line x1="1256.1" y1="82.68" x2="1262.1" y2="82.68" stroke="#000" stroke-width="1.08"/>
<line x1="1679.5" y1="82.68" x2="1673.5" y2="82.68" stroke="#000" stroke-width="1.08"/>
<line x1="1256.1" y1="48.59" x2="1259.1" y2="48.59" stroke="#000" stroke-width="1.08"/>
<line x1="1679.5" y1="48.59" x2="1676.5" y2="48.59" stroke="#000" stroke-width="1.08"/>
<path d="M1256.86,299.07 L1257.55,297.94 L1258.25,296.81 L1258.95,295.61 L1259.65,294.42 L1260.29,293.26 L1260.94,292.09 L1261.55,290.92 L1262.17,289.75 L1262.79,288.51 L1263.40,287.28 L1263.97,286.08 L1264.54,284.89 L1265.08,283.68 L1265.63,282.48 L1266.16,281.26 L1266.69,280.05 L1267.22,278.78 L1267.74,277.51 L1268.24,276.28 L1268.73,275.05 L1269.21,273.82 L1269.69,272.58 L1270.17,271.29 L1270.65,270.00 L1271.11,268.76 L1271.56,267.51 L1272.01,266.27 L1272.45,265.02 L1272.91,263.72 L1273.36,262.42 L1273.79,261.17 L1274.23,259.91 L1274.65,258.66 L1275.08,257.41 L1275.50,256.15 L1275.93,254.90 L1276.36,253.59 L1276.80,252.29 L1277.22,251.03 L1277.63,249.77 L1278.05,248.51 L1278.46,247.26 L1278.88,245.95 L1279.31,244.64 L1279.72,243.38 L1280.12,242.11 L1280.52,240.85 L1280.93,239.59 L1281.34,238.28 L1281.76,236.96 L1282.15,235.70 L1282.55,234.44 L1282.94,233.17 L1283.33,231.91 L1283.74,230.59 L1284.15,229.27 L1284.53,228.01 L1284.92,226.74 L1285.30,225.47 L1285.69,224.20 L1286.07,222.93 L1286.45,221.66 L1286.84,220.34 L1287.24,219.02 L1287.61,217.75 L1287.99,216.48 L1288.36,215.21 L1288.73,213.94 L1289.12,212.62 L1289.50,211.30 L1289.87,210.02 L1290.24,208.75 L1290.60,207.48 L1290.97,206.20 L1291.35,204.88 L1291.73,203.55 L1292.09,202.28 L1292.45,201.00 L1292.81,199.73 L1293.16,198.45 L1293.52,197.18 L1293.88,195.90 L1294.25,194.58 L1294.62,193.25 L1294.97,191.97 L1295.32,190.70 L1295.67,189.42 L1296.02,188.14 L1296.39,186.82 L1296.75,185.49 L1297.10,184.21 L1297.45,182.93 L1297.80,181.66 L1298.14,180.38 L1298.50,179.05 L1298.86,177.72 L1299.21,176.45 L1299.55,175.17 L1299.90,173.89 L1300.24,172.61 L1300.59,171.34 L1300.93,170.06 L1301.29,168.73 L1301.65,167.40 L1301.99,166.12 L1302.33,164.85 L1302.68,163.57 L1303.02,162.29 L1303.38,160.96 L1303.74,159.64 L1304.08,158.36 L1304.42,157.08 L1304.77,155.80 L1305.11,154.53 L1305.47,153.20 L1305.83,151.87 L1306.18,150.60 L1306.52,149.32 L1306.87,148.05 L1307.21,146.77 L1307.58,145.45 L1307.94,144.12 L1308.29,142.85 L1308.63,141.57 L1308.99,140.30 L1309.34,139.02 L1309.69,137.75 L1310.04,136.48 L1310.41,135.15 L1310.77,133.83 L1311.13,132.56 L1311.48,131.29 L1311.84,130.02 L1312.20,128.75 L1312.57,127.42 L1312.95,126.10 L1313.31,124.83 L1313.67,123.56 L1314.03,122.30 L1314.40,121.03 L1314.78,119.71 L1315.16,118.39 L1315.53,117.12 L1315.90,115.86 L1316.27,114.59 L1316.65,113.33 L1317.02,112.06 L1317.40,110.80 L1317.79,109.48 L1318.18,108.17 L1318.57,106.91 L1318.95,105.65 L1319.34,104.39 L1319.72,103.13 L1320.13,101.82 L1320.53,100.51 L1320.92,99.24 L1321.30,97.98 L1320.82,98.54 L1321.71,98.08 L1322.60,97.62 L1323.53,97.14 L1324.45,96.66 L1325.34,96.20 L1326.23,95.74 L1327.12,95.27 L1328.01,94.80 L1328.90,94.33 L1329.79,93.85 L1330.71,93.36 L1331.64,92.86 L1332.52,92.38 L1333.41,91.90 L1334.30,91.41 L1335.18,90.93 L1336.10,90.42 L1337.02,89.91 L1337.91,89.41 L1338.79,88.92 L1339.68,88.43 L1340.56,87.93 L1341.44,87.43 L1342.33,86.93 L1343.25,86.41 L1344.17,85.89 L1345.05,85.39 L1345.93,84.88 L1346.81,84.38 L1347.70,83.87 L1348.62,83.34 L1349.53,82.82 L1350.42,82.31 L1351.30,81.80 L1352.18,81.29 L1353.06,80.78 L1353.98,80.25 L1354.90,79.72 L1355.78,79.21 L1356.67,78.70 L1357.55,78.19 L1358.43,77.68 L1359.32,77.17 L1360.20,76.66 L1361.12,76.13 L1362.04,75.60 L1362.92,75.09 L1363.81,74.58 L1364.69,74.07 L1365.58,73.56 L1366.50,73.03 L1367.42,72.50 L1368.31,72.00 L1369.19,71.49 L1370.08,70.99 L1370.97,70.48 L1371.86,69.98 L1372.74,69.48 L1373.67,68.96 L1374.59,68.44 L1375.48,67.94 L1376.37,67.45 L1377.27,66.95 L1378.16,66.46 L1379.09,65.95 L1380.01,65.44 L1380.91,64.95 L1381.80,64.46 L1382.70,63.98 L1383.59,63.50 L1384.49,63.02 L1385.38,62.54 L1386.32,62.05 L1387.25,61.55 L1388.15,61.08 L1389.05,60.61 L1389.95,60.15 L1390.86,59.68 L1391.79,59.20 L1392.73,58.73 L1393.64,58.27 L1394.54,57.82 L1395.45,57.37 L1396.36,56.92 L1397.30,56.46 L1398.25,56.00 L1399.16,55.56 L1400.07,55.13 L1400.98,54.70 L1401.90,54.27 L1402.81,53.85 L1403.73,53.43 L1404.68,52.99 L1405.64,52.56 L1406.56,52.16 L1407.47,51.75 L1408.40,51.35 L1409.32,50.95 L1410.28,50.54 L1411.24,50.13 L1412.17,49.75 L1413.10,49.37 L1414.03,48.99 L1414.96,48.62 L1415.89,48.25 L1416.82,47.89 L1417.80,47.52 L1418.77,47.15 L1419.71,46.80 L1420.64,46.45 L1421.59,46.12 L1422.53,45.78 L1423.51,45.44 L1424.49,45.10 L1425.44,44.79 L1426.38,44.47 L1427.34,44.16 L1428.29,43.86 L1429.24,43.57 L1430.19,43.27 L1431.19,42.98 L1432.18,42.68 L1433.14,42.41 L1434.10,42.14 L1435.06,41.88 L1436.03,41.62 L1437.03,41.37 L1438.04,41.11 L1439.01,40.87 L1439.98,40.64 L1440.95,40.42 L1441.93,40.20 L1442.94,39.98 L1443.96,39.76 L1444.94,39.57 L1445.92,39.37 L1446.91,39.19 L1447.89,39.01 L1448.88,38.84 L1449.87,38.68 L1450.90,38.52 L1451.94,38.36 L1452.93,38.22 L1453.93,38.08 L1454.93,37.96 L1455.93,37.84 L1456.98,37.72 L1458.02,37.61 L1459.03,37.52 L1460.04,37.43 L1461.05,37.35 L1462.07,37.27 L1463.09,37.21 L1464.10,37.15 L1465.17,37.10 L1466.23,37.04 L1467.26,36.98 L1467.83,36.81 L1468.35,37.55 L1469.16,38.53 L1469.95,39.53 L1470.71,40.45 L1471.45,41.36 L1472.19,42.26 L1472.90,43.14 L1473.60,44.02 L1474.30,44.90 L1474.99,45.79 L1475.69,46.67 L1476.38,47.56 L1477.07,48.45 L1477.75,49.35 L1478.44,50.24 L1479.14,51.17 L1479.84,52.11 L1480.55,53.04 L1481.21,53.94 L1481.88,54.85 L1482.55,55.75 L1483.21,56.66 L1483.87,57.57 L1484.52,58.48 L1485.20,59.43 L1485.88,60.39 L1486.55,61.34 L1487.20,62.26 L1487.84,63.18 L1488.48,64.10 L1489.12,65.03 L1489.76,65.95 L1490.39,66.88 L1491.02,67.81 L1491.65,68.74 L1492.28,69.67 L1492.92,70.64 L1493.57,71.62 L1494.22,72.59 L1494.83,73.53 L1495.45,74.47 L1496.06,75.41 L1496.67,76.36 L1497.28,77.30 L1497.89,78.25 L1498.51,79.23 L1499.14,80.22 L1499.77,81.21 L1500.36,82.16 L1500.96,83.12 L1501.56,84.07 L1502.15,85.02 L1502.74,85.98 L1503.33,86.94 L1503.94,87.94 L1504.55,88.94 L1505.16,89.94 L1505.74,90.90 L1506.32,91.86 L1506.90,92.83 L1507.48,93.79 L1508.06,94.76 L1508.63,95.73 L1509.20,96.70 L1509.78,97.67 L1510.35,98.64 L1510.94,99.65 L1511.53,100.67 L1512.12,101.68 L1512.68,102.65 L1513.25,103.63 L1513.81,104.60 L1514.37,105.58 L1514.93,106.56 L1515.49,107.54 L1516.07,108.56 L1516.65,109.58 L1517.23,110.60 L1517.79,111.58 L1518.34,112.57 L1518.89,113.55 L1519.45,114.53 L1520.00,115.52 L1520.55,116.50 L1521.10,117.49 L1521.65,118.48 L1522.20,119.46 L1522.76,120.49 L1523.33,121.52 L1523.90,122.55 L1524.45,123.53 L1524.99,124.52 L1525.54,125.51 L1526.08,126.50 L1526.62,127.50 L1527.17,128.49 L1527.73,129.52 L1528.29,130.55 L1528.86,131.58 L1529.40,132.57 L1529.94,133.56 L1530.48,134.56 L1531.02,135.55 L1531.56,136.54 L1532.10,137.54 L1532.64,138.53 L1533.18,139.52 L1533.72,140.52 L1534.28,141.55 L1534.84,142.58 L1535.40,143.61 L1535.94,144.61 L1536.48,145.60 L1537.02,146.60 L1537.56,147.59 L1538.10,148.58 L1538.64,149.58 L1539.20,150.61 L1539.77,151.64 L1540.33,152.67 L1540.87,153.67 L1541.41,154.66 L1541.95,155.65 L1542.49,156.64 L1543.04,157.63 L1543.58,158.63 L1544.15,159.66 L1544.71,160.69 L1545.28,161.72 L1545.82,162.71 L1546.37,163.70 L1546.91,164.68 L1547.46,165.67 L1548.01,166.66 L1548.56,167.65 L1549.11,168.64 L1549.66,169.62 L1550.21,170.61 L1550.78,171.63 L1551.36,172.66 L1551.93,173.68 L1552.49,174.66 L1553.05,175.64 L1553.60,176.63 L1554.16,177.61 L1554.72,178.59 L1555.28,179.57 L1555.87,180.59 L1556.45,181.60 L1557.04,182.62 L1557.60,183.60 L1558.17,184.57 L1558.74,185.54 L1559.31,186.52 L1559.88,187.49 L1560.45,188.46 L1561.02,189.43 L1561.60,190.40 L1562.18,191.37 L1562.78,192.38 L1563.38,193.38 L1563.98,194.38 L1564.57,195.35 L1565.15,196.31 L1565.74,197.27 L1566.33,198.23 L1566.92,199.19 L1567.51,200.15 L1568.13,201.14 L1568.75,202.13 L1569.37,203.13 L1569.97,204.08 L1570.57,205.03 L1571.18,205.98 L1571.78,206.93 L1572.39,207.87 L1573.00,208.82 L1573.62,209.76 L1574.23,210.70 L1574.84,211.65 L1575.49,212.62 L1576.14,213.59 L1576.78,214.57 L1577.41,215.50 L1578.04,216.43 L1578.67,217.37 L1579.31,218.30 L1579.94,219.22 L1580.58,220.15 L1581.25,221.11 L1581.91,222.07 L1582.58,223.02 L1583.24,223.94 L1583.89,224.86 L1584.54,225.77 L1585.20,226.69 L1585.86,227.59 L1586.52,228.51 L1587.21,229.45 L1587.91,230.39 L1588.60,231.33 L1589.28,232.23 L1589.96,233.12 L1590.64,234.02 L1591.32,234.91 L1592.01,235.80 L1592.70,236.70 L1593.39,237.58 L1594.09,238.47 L1594.78,239.35 L1595.52,240.27 L1596.25,241.18 L1596.98,242.09 L1597.70,242.97 L1598.41,243.84 L1599.13,244.71 L1599.86,245.57 L1600.58,246.43 L1601.31,247.30 L1602.08,248.19 L1602.84,249.08 L1603.61,249.97 L1604.36,250.82 L1605.10,251.67 L1605.85,252.52 L1606.61,253.36 L1607.37,254.20 L1608.13,255.04 L1608.90,255.88 L1609.66,256.71 L1610.44,257.54 L1611.25,258.40 L1612.06,259.26 L1612.88,260.12 L1613.67,260.93 L1614.45,261.76 L1615.22,262.59 L1615.07,262.42 L1615.57,263.37 L1616.08,264.37 L1616.59,265.35 L1617.09,266.34 L1617.63,267.40 L1618.14,268.42 L1618.65,269.46 L1619.16,270.52 L1619.70,271.62 L1620.22,272.70 L1620.75,273.79 L1621.30,274.92 L1621.83,276.02 L1622.37,277.13 L1622.94,278.28 L1623.49,279.40 L1624.05,280.51 L1624.61,281.63 L1625.21,282.79 L1625.79,283.91 L1626.38,285.02 L1627.00,286.17 L1627.61,287.28 L1628.23,288.37 L1628.89,289.51 L1629.53,290.59 L1630.18,291.66 L1630.87,292.76 L1631.55,293.81 L1632.25,294.84 L1632.96,295.86 L1633.71,296.91 L1634.44,297.89 L1635.20,298.86 L1636.00,299.85 L1636.78,300.77 L1637.59,301.68 L1638.44,302.59 L1639.27,303.46 L1640.13,304.29 L1640.99,305.11 L1641.91,305.93 L1642.82,306.70 L1643.74,307.43 L1644.73,308.16 L1645.70,308.83 L1646.70,309.46 L1647.76,310.09 L1648.80,310.65 L1649.87,311.18 L1650.97,311.66 L1652.13,312.12 L1653.28,312.52 L1654.45,312.86 L1655.69,313.15 L1656.89,313.36 L1658.11,313.50 L1659.38,313.54 L1660.61,313.50 L1661.83,313.37 L1663.09,313.14 L1664.28,312.83 L1665.46,312.44 L1666.62,311.97 L1667.79,311.41 L1668.89,310.79 L1669.95,310.10 L1671.03,309.33 L1672.03,308.53 L1673.00,307.69 L1673.97,306.78 L1674.88,305.88 L1675.75,304.95 L1676.59,304.00 L1677.43,303.00 L1678.19,302.03 L1678.91,301.05 L1679.61,300.04 L1680.24,299.08 L1678.76,298.12 L1678.16,299.07 L1677.50,300.05 L1676.82,301.00 L1676.10,301.95 L1675.32,302.93 L1674.53,303.84 L1673.70,304.74 L1672.83,305.60 L1671.90,306.45 L1670.97,307.22 L1670.01,307.94 L1668.98,308.63 L1667.98,309.23 L1666.96,309.77 L1665.88,310.25 L1664.83,310.64 L1663.76,310.97 L1662.69,311.22 L1661.56,311.41 L1660.47,311.51 L1659.39,311.55 L1658.25,311.51 L1657.16,311.40 L1656.07,311.22 L1654.93,310.97 L1653.85,310.68 L1652.78,310.33 L1651.68,309.92 L1650.64,309.48 L1649.63,309.01 L1648.63,308.50 L1647.62,307.93 L1646.66,307.35 L1645.73,306.73 L1644.77,306.06 L1643.87,305.38 L1642.99,304.67 L1642.09,303.89 L1641.25,303.12 L1640.43,302.31 L1639.63,301.48 L1638.81,300.58 L1638.05,299.69 L1637.29,298.78 L1636.53,297.81 L1635.81,296.86 L1635.10,295.90 L1634.38,294.87 L1633.70,293.87 L1633.03,292.85 L1632.37,291.82 L1631.70,290.73 L1631.06,289.67 L1630.44,288.60 L1629.80,287.48 L1629.19,286.40 L1628.60,285.31 L1627.99,284.16 L1627.41,283.06 L1626.84,281.95 L1626.25,280.80 L1625.69,279.69 L1625.14,278.58 L1624.59,277.47 L1624.03,276.32 L1623.49,275.22 L1622.96,274.12 L1622.41,272.98 L1621.89,271.89 L1621.36,270.82 L1620.82,269.71 L1620.30,268.65 L1619.79,267.60 L1619.27,266.57 L1618.73,265.51 L1618.21,264.51 L1617.69,263.52 L1617.13,262.52 L1616.59,261.58 L1616.44,261.41 L1615.63,260.61 L1614.83,259.81 L1614.04,259.00 L1613.24,258.14 L1612.43,257.29 L1611.63,256.43 L1610.86,255.60 L1610.10,254.77 L1609.34,253.94 L1608.59,253.10 L1607.83,252.26 L1607.08,251.43 L1606.34,250.58 L1605.60,249.73 L1604.86,248.89 L1604.10,248.00 L1603.34,247.11 L1602.58,246.22 L1601.86,245.36 L1601.14,244.50 L1600.42,243.64 L1599.71,242.77 L1599.00,241.90 L1598.29,241.03 L1597.57,240.12 L1596.84,239.21 L1596.11,238.30 L1595.42,237.42 L1594.73,236.54 L1594.04,235.66 L1593.36,234.77 L1592.68,233.88 L1592.00,232.99 L1591.32,232.09 L1590.65,231.20 L1589.98,230.30 L1589.29,229.37 L1588.60,228.43 L1587.91,227.49 L1587.26,226.58 L1586.60,225.67 L1585.94,224.77 L1585.30,223.85 L1584.65,222.94 L1584.00,222.03 L1583.34,221.07 L1582.67,220.11 L1582.01,219.16 L1581.38,218.24 L1580.75,217.31 L1580.11,216.39 L1579.49,215.46 L1578.87,214.53 L1578.24,213.60 L1577.60,212.63 L1576.96,211.65 L1576.31,210.68 L1575.70,209.74 L1575.09,208.80 L1574.48,207.86 L1573.88,206.92 L1573.27,205.97 L1572.67,205.03 L1572.07,204.08 L1571.47,203.13 L1570.87,202.18 L1570.26,201.19 L1569.64,200.20 L1569.02,199.21 L1568.44,198.26 L1567.85,197.30 L1567.26,196.34 L1566.68,195.38 L1566.10,194.42 L1565.51,193.46 L1564.91,192.46 L1564.31,191.46 L1563.71,190.45 L1563.14,189.49 L1562.57,188.52 L1561.99,187.55 L1561.43,186.58 L1560.86,185.61 L1560.29,184.64 L1559.72,183.67 L1559.16,182.69 L1558.59,181.72 L1558.01,180.70 L1557.43,179.69 L1556.84,178.67 L1556.29,177.69 L1555.73,176.71 L1555.17,175.74 L1554.62,174.76 L1554.06,173.77 L1553.51,172.79 L1552.94,171.77 L1552.36,170.75 L1551.79,169.72 L1551.24,168.74 L1550.69,167.75 L1550.14,166.77 L1549.59,165.78 L1549.05,164.79 L1548.50,163.81 L1547.96,162.82 L1547.41,161.83 L1546.87,160.84 L1546.30,159.81 L1545.74,158.78 L1545.17,157.75 L1544.63,156.76 L1544.09,155.77 L1543.55,154.78 L1543.00,153.79 L1542.46,152.80 L1541.92,151.80 L1541.36,150.77 L1540.80,149.74 L1540.24,148.71 L1539.70,147.71 L1539.16,146.72 L1538.62,145.73 L1538.08,144.73 L1537.54,143.74 L1537.00,142.75 L1536.44,141.71 L1535.88,140.68 L1535.32,139.65 L1534.78,138.65 L1534.24,137.66 L1533.70,136.67 L1533.16,135.67 L1532.62,134.68 L1532.08,133.69 L1531.54,132.69 L1530.99,131.70 L1530.45,130.71 L1529.89,129.68 L1529.32,128.65 L1528.76,127.61 L1528.22,126.62 L1527.67,125.63 L1527.13,124.64 L1526.58,123.65 L1526.04,122.66 L1525.49,121.67 L1524.92,120.64 L1524.35,119.61 L1523.78,118.58 L1523.23,117.60 L1522.68,116.61 L1522.13,115.62 L1521.58,114.63 L1521.02,113.65 L1520.47,112.66 L1519.91,111.68 L1519.36,110.69 L1518.80,109.71 L1518.22,108.69 L1517.64,107.67 L1517.06,106.65 L1516.50,105.67 L1515.93,104.69 L1515.37,103.71 L1514.81,102.73 L1514.24,101.75 L1513.67,100.77 L1513.08,99.76 L1512.49,98.75 L1511.90,97.73 L1511.32,96.76 L1510.75,95.79 L1510.17,94.82 L1509.59,93.85 L1509.01,92.88 L1508.44,91.91 L1507.85,90.94 L1507.27,89.98 L1506.68,89.01 L1506.07,88.01 L1505.46,87.01 L1504.85,86.01 L1504.25,85.05 L1503.66,84.09 L1503.06,83.13 L1502.46,82.17 L1501.87,81.22 L1501.26,80.26 L1500.63,79.27 L1500.01,78.28 L1499.37,77.29 L1498.76,76.35 L1498.15,75.40 L1497.54,74.45 L1496.92,73.51 L1496.30,72.57 L1495.68,71.62 L1495.03,70.65 L1494.38,69.67 L1493.73,68.70 L1493.10,67.76 L1492.47,66.83 L1491.83,65.90 L1491.19,64.97 L1490.55,64.04 L1489.91,63.11 L1489.27,62.18 L1488.62,61.26 L1487.97,60.34 L1487.29,59.38 L1486.61,58.43 L1485.93,57.47 L1485.26,56.56 L1484.60,55.65 L1483.93,54.74 L1483.26,53.83 L1482.59,52.92 L1481.92,52.01 L1481.21,51.08 L1480.50,50.14 L1479.79,49.20 L1479.10,48.31 L1478.42,47.41 L1477.72,46.52 L1477.02,45.63 L1476.33,44.74 L1475.63,43.85 L1474.92,42.97 L1474.21,42.09 L1473.50,41.20 L1472.75,40.29 L1472.01,39.38 L1471.27,38.48 L1470.51,37.48 L1469.75,36.45 L1468.70,35.19 L1467.21,35.08 L1466.16,35.08 L1465.08,35.11 L1464.00,35.15 L1462.97,35.22 L1461.93,35.28 L1460.90,35.36 L1459.87,35.44 L1458.85,35.53 L1457.82,35.63 L1456.76,35.74 L1455.70,35.86 L1454.68,35.99 L1453.67,36.11 L1452.66,36.26 L1451.65,36.40 L1450.60,36.56 L1449.55,36.72 L1448.55,36.90 L1447.55,37.07 L1446.55,37.25 L1445.55,37.44 L1444.56,37.64 L1443.56,37.84 L1442.53,38.06 L1441.50,38.28 L1440.52,38.51 L1439.53,38.73 L1438.55,38.97 L1437.57,39.21 L1436.55,39.48 L1435.53,39.74 L1434.56,40.00 L1433.58,40.27 L1432.61,40.55 L1431.64,40.82 L1430.64,41.12 L1429.63,41.42 L1428.67,41.72 L1427.70,42.02 L1426.74,42.33 L1425.78,42.64 L1424.83,42.97 L1423.87,43.29 L1422.88,43.63 L1421.89,43.98 L1420.94,44.32 L1419.99,44.66 L1419.04,45.02 L1418.10,45.37 L1417.12,45.74 L1416.14,46.12 L1415.20,46.49 L1414.26,46.86 L1413.32,47.24 L1412.38,47.62 L1411.45,48.01 L1410.52,48.40 L1409.55,48.81 L1408.58,49.23 L1407.65,49.63 L1406.72,50.04 L1405.80,50.45 L1404.87,50.86 L1403.91,51.30 L1402.95,51.73 L1402.03,52.16 L1401.11,52.59 L1400.19,53.02 L1399.27,53.46 L1398.36,53.90 L1397.44,54.34 L1396.49,54.80 L1395.54,55.27 L1394.63,55.72 L1393.72,56.17 L1392.81,56.63 L1391.90,57.09 L1390.96,57.57 L1390.02,58.05 L1389.11,58.52 L1388.21,58.99 L1387.31,59.46 L1386.40,59.94 L1385.47,60.43 L1384.53,60.93 L1383.63,61.41 L1382.73,61.90 L1381.83,62.38 L1380.93,62.87 L1380.04,63.36 L1379.14,63.85 L1378.21,64.36 L1377.28,64.87 L1376.39,65.37 L1375.49,65.87 L1374.60,66.36 L1373.71,66.86 L1372.78,67.38 L1371.86,67.91 L1370.97,68.41 L1370.08,68.91 L1369.19,69.42 L1368.30,69.92 L1367.41,70.43 L1366.52,70.94 L1365.60,71.47 L1364.68,72.00 L1363.79,72.51 L1362.91,73.02 L1362.02,73.53 L1361.14,74.04 L1360.22,74.57 L1359.30,75.10 L1358.42,75.61 L1357.53,76.12 L1356.65,76.63 L1355.76,77.14 L1354.88,77.65 L1354.00,78.16 L1353.08,78.69 L1352.16,79.22 L1351.28,79.73 L1350.40,80.24 L1349.52,80.75 L1348.64,81.26 L1347.72,81.78 L1346.80,82.31 L1345.92,82.81 L1345.04,83.32 L1344.16,83.82 L1343.27,84.32 L1342.36,84.84 L1341.44,85.36 L1340.56,85.86 L1339.68,86.35 L1338.79,86.85 L1337.91,87.34 L1337.03,87.83 L1336.15,88.32 L1335.23,88.83 L1334.31,89.34 L1333.42,89.82 L1332.54,90.30 L1331.66,90.78 L1330.77,91.26 L1329.85,91.75 L1328.93,92.25 L1328.05,92.72 L1327.16,93.19 L1326.27,93.65 L1325.39,94.12 L1324.50,94.58 L1323.61,95.04 L1322.69,95.51 L1321.77,95.98 L1320.87,96.42 L1319.98,96.86 L1319.50,97.42 L1319.09,98.67 L1318.69,99.93 L1318.28,101.24 L1317.88,102.56 L1317.49,103.82 L1317.10,105.08 L1316.72,106.35 L1316.33,107.61 L1315.94,108.93 L1315.54,110.24 L1315.17,111.51 L1314.79,112.78 L1314.42,114.05 L1314.04,115.31 L1313.67,116.58 L1313.30,117.85 L1312.92,119.17 L1312.54,120.49 L1312.17,121.76 L1311.81,123.03 L1311.44,124.30 L1311.08,125.57 L1310.71,126.90 L1310.33,128.22 L1309.97,129.49 L1309.61,130.76 L1309.26,132.04 L1308.90,133.31 L1308.53,134.63 L1308.17,135.96 L1307.81,137.23 L1307.46,138.51 L1307.11,139.78 L1306.76,141.06 L1306.41,142.33 L1306.06,143.61 L1305.70,144.93 L1305.34,146.26 L1304.99,147.54 L1304.64,148.81 L1304.30,150.09 L1303.95,151.37 L1303.59,152.69 L1303.23,154.02 L1302.89,155.30 L1302.54,156.57 L1302.20,157.85 L1301.86,159.13 L1301.50,160.46 L1301.14,161.79 L1300.80,163.06 L1300.45,164.34 L1300.11,165.62 L1299.77,166.89 L1299.41,168.22 L1299.05,169.55 L1298.71,170.83 L1298.36,172.11 L1298.02,173.38 L1297.68,174.66 L1297.33,175.94 L1296.98,177.21 L1296.62,178.54 L1296.27,179.87 L1295.92,181.15 L1295.57,182.42 L1295.22,183.70 L1294.88,184.98 L1294.51,186.30 L1294.15,187.63 L1293.80,188.91 L1293.45,190.18 L1293.10,191.46 L1292.74,192.73 L1292.38,194.06 L1292.01,195.38 L1291.65,196.66 L1291.30,197.93 L1290.94,199.20 L1290.58,200.48 L1290.22,201.75 L1289.86,203.02 L1289.48,204.35 L1289.11,205.67 L1288.74,206.94 L1288.38,208.21 L1288.01,209.48 L1287.64,210.76 L1287.26,212.08 L1286.87,213.40 L1286.50,214.67 L1286.13,215.94 L1285.76,217.21 L1285.38,218.47 L1284.99,219.79 L1284.60,221.11 L1284.22,222.38 L1283.84,223.64 L1283.45,224.91 L1283.07,226.18 L1282.68,227.44 L1282.30,228.71 L1281.89,230.02 L1281.49,231.34 L1281.10,232.60 L1280.71,233.86 L1280.31,235.12 L1279.92,236.39 L1279.50,237.70 L1279.09,239.01 L1278.69,240.27 L1278.29,241.53 L1277.88,242.79 L1277.48,244.04 L1277.05,245.35 L1276.63,246.66 L1276.22,247.92 L1275.81,249.17 L1275.39,250.43 L1274.98,251.68 L1274.54,252.98 L1274.11,254.29 L1273.69,255.54 L1273.26,256.79 L1272.84,258.04 L1272.41,259.29 L1271.98,260.54 L1271.55,261.79 L1271.10,263.09 L1270.65,264.38 L1270.21,265.63 L1269.77,266.87 L1269.32,268.11 L1268.87,269.34 L1268.39,270.62 L1267.91,271.91 L1267.44,273.13 L1266.97,274.36 L1266.48,275.58 L1266.00,276.80 L1265.48,278.06 L1264.96,279.32 L1264.44,280.52 L1263.92,281.72 L1263.39,282.92 L1262.85,284.11 L1262.29,285.29 L1261.74,286.48 L1261.14,287.69 L1260.54,288.91 L1259.93,290.07 L1259.33,291.23 L1258.70,292.38 L1258.08,293.53 L1257.40,294.71 L1256.72,295.89 L1256.03,297.01 L1255.34,298.13Z" fill="#f00" stroke="#f00" stroke-width="0.15" stroke-linejoin="round" clip-path="url(#clipc)"/>
<path d="M1255.45,299.02 L1256.07,299.98 L1256.78,300.99 L1257.50,301.97 L1258.27,302.94 L1259.11,303.94 L1259.95,304.88 L1260.83,305.81 L1261.73,306.71 L1262.71,307.62 L1263.68,308.46 L1264.68,309.25 L1265.76,310.02 L1266.82,310.70 L1267.92,311.32 L1269.09,311.88 L1270.25,312.35 L1271.42,312.73 L1272.62,313.04 L1273.87,313.27 L1275.09,313.40 L1276.32,313.44 L1277.59,313.40 L1278.81,313.26 L1280.02,313.05 L1281.25,312.77 L1282.42,312.42 L1283.57,312.03 L1284.74,311.57 L1285.84,311.09 L1286.91,310.56 L1287.95,310.00 L1289.02,309.38 L1290.01,308.75 L1290.99,308.08 L1291.98,307.35 L1292.91,306.62 L1293.82,305.86 L1294.74,305.04 L1295.61,304.22 L1296.46,303.39 L1297.30,302.53 L1298.15,301.61 L1298.96,300.71 L1299.75,299.78 L1300.55,298.80 L1301.31,297.83 L1302.05,296.85 L1302.80,295.81 L1303.51,294.79 L1304.21,293.76 L1304.89,292.71 L1305.58,291.61 L1306.24,290.54 L1306.89,289.46 L1307.54,288.33 L1308.17,287.23 L1308.78,286.13 L1309.40,284.97 L1310.00,283.86 L1310.58,282.75 L1311.18,281.59 L1311.75,280.47 L1312.31,279.35 L1312.86,278.24 L1313.43,277.09 L1313.97,275.98 L1314.51,274.88 L1315.06,273.74 L1315.59,272.66 L1316.11,271.58 L1316.65,270.47 L1317.17,269.42 L1317.69,268.38 L1318.20,267.35 L1318.74,266.30 L1319.25,265.30 L1319.76,264.33 L1320.27,263.32 L1320.77,262.37 L1320.63,262.52 L1321.42,261.69 L1322.20,260.86 L1322.99,260.05 L1323.81,259.19 L1324.63,258.33 L1325.45,257.48 L1326.22,256.64 L1326.99,255.81 L1327.77,254.98 L1328.53,254.13 L1329.29,253.30 L1330.05,252.45 L1330.81,251.60 L1331.56,250.76 L1332.31,249.91 L1333.08,249.02 L1333.85,248.13 L1334.62,247.24 L1335.35,246.37 L1336.07,245.51 L1336.80,244.64 L1337.52,243.77 L1338.24,242.90 L1338.96,242.03 L1339.70,241.12 L1340.44,240.21 L1341.17,239.29 L1341.87,238.41 L1342.57,237.52 L1343.27,236.64 L1343.96,235.74 L1344.65,234.85 L1345.34,233.96 L1346.02,233.06 L1346.70,232.17 L1347.38,231.27 L1348.08,230.33 L1348.78,229.39 L1349.48,228.45 L1350.14,227.54 L1350.81,226.63 L1351.47,225.72 L1352.12,224.80 L1352.78,223.89 L1353.43,222.97 L1354.11,222.01 L1354.78,221.05 L1355.45,220.09 L1356.09,219.17 L1356.73,218.24 L1357.37,217.31 L1358.00,216.38 L1358.63,215.45 L1359.26,214.52 L1359.91,213.54 L1360.56,212.57 L1361.21,211.59 L1361.83,210.65 L1362.45,209.71 L1363.06,208.77 L1363.68,207.82 L1364.29,206.87 L1364.90,205.93 L1365.50,204.98 L1366.11,204.03 L1366.71,203.08 L1367.34,202.08 L1367.96,201.09 L1368.58,200.10 L1369.18,199.14 L1369.77,198.18 L1370.36,197.22 L1370.95,196.26 L1371.54,195.30 L1372.13,194.33 L1372.73,193.33 L1373.34,192.33 L1373.94,191.32 L1374.52,190.35 L1375.10,189.38 L1375.68,188.41 L1376.25,187.44 L1376.83,186.47 L1377.40,185.50 L1377.97,184.52 L1378.54,183.55 L1379.11,182.57 L1379.70,181.55 L1380.29,180.54 L1380.87,179.52 L1381.44,178.54 L1382.00,177.56 L1382.56,176.58 L1383.12,175.60 L1383.68,174.61 L1384.24,173.63 L1384.82,172.61 L1385.39,171.58 L1385.97,170.56 L1386.52,169.57 L1387.08,168.59 L1387.63,167.60 L1388.18,166.61 L1388.73,165.63 L1389.28,164.64 L1389.83,163.65 L1390.38,162.66 L1390.93,161.67 L1391.50,160.64 L1392.07,159.61 L1392.64,158.58 L1393.18,157.59 L1393.73,156.60 L1394.27,155.60 L1394.82,154.61 L1395.36,153.62 L1395.90,152.63 L1396.47,151.59 L1397.03,150.56 L1397.60,149.53 L1398.14,148.54 L1398.68,147.54 L1399.23,146.55 L1399.77,145.56 L1400.31,144.56 L1400.85,143.57 L1401.42,142.54 L1401.98,141.50 L1402.55,140.47 L1403.09,139.48 L1403.63,138.48 L1404.17,137.49 L1404.72,136.50 L1405.26,135.50 L1405.80,134.51 L1406.35,133.52 L1406.89,132.52 L1407.43,131.53 L1408.00,130.50 L1408.57,129.47 L1409.13,128.44 L1409.68,127.45 L1410.23,126.46 L1410.77,125.47 L1411.32,124.48 L1411.87,123.49 L1412.42,122.50 L1412.99,121.47 L1413.56,120.44 L1414.13,119.42 L1414.68,118.43 L1415.23,117.44 L1415.79,116.46 L1416.34,115.47 L1416.90,114.49 L1417.45,113.50 L1418.01,112.52 L1418.56,111.53 L1419.12,110.55 L1419.70,109.53 L1420.29,108.51 L1420.87,107.49 L1421.43,106.51 L1422.00,105.53 L1422.56,104.56 L1423.13,103.58 L1423.69,102.60 L1424.26,101.63 L1424.85,100.62 L1425.45,99.60 L1426.04,98.59 L1426.62,97.62 L1427.19,96.65 L1427.77,95.68 L1428.35,94.71 L1428.93,93.74 L1429.51,92.78 L1430.09,91.81 L1430.67,90.85 L1431.26,89.88 L1431.87,88.89 L1432.48,87.89 L1433.10,86.89 L1433.69,85.93 L1434.29,84.97 L1434.88,84.02 L1435.48,83.06 L1436.08,82.11 L1436.68,81.16 L1437.31,80.17 L1437.94,79.18 L1438.57,78.19 L1439.18,77.25 L1439.79,76.30 L1440.41,75.36 L1441.02,74.42 L1441.64,73.48 L1442.26,72.54 L1442.91,71.57 L1443.56,70.59 L1444.21,69.62 L1444.84,68.69 L1445.48,67.75 L1446.11,66.82 L1446.75,65.90 L1447.39,64.97 L1448.02,64.05 L1448.67,63.12 L1449.32,62.20 L1449.96,61.28 L1450.64,60.33 L1451.33,59.38 L1452.01,58.42 L1452.67,57.52 L1453.33,56.60 L1453.99,55.69 L1454.66,54.79 L1455.34,53.88 L1456.01,52.98 L1456.71,52.05 L1457.42,51.11 L1458.13,50.18 L1458.81,49.29 L1459.50,48.39 L1460.19,47.50 L1460.89,46.61 L1461.59,45.73 L1462.28,44.84 L1462.99,43.96 L1463.70,43.08 L1464.40,42.20 L1465.15,41.29 L1465.90,40.38 L1466.64,39.48 L1467.38,38.62 L1468.13,37.77 L1468.66,37.11 L1469.51,37.07 L1470.54,36.93 L1471.52,37.00 L1472.58,37.05 L1473.59,37.11 L1474.61,37.17 L1475.61,37.25 L1476.62,37.33 L1477.63,37.42 L1478.63,37.51 L1479.67,37.62 L1480.72,37.74 L1481.71,37.86 L1482.71,37.98 L1483.70,38.12 L1484.69,38.26 L1485.72,38.42 L1486.75,38.58 L1487.73,38.75 L1488.72,38.91 L1489.70,39.09 L1490.68,39.28 L1491.66,39.47 L1492.63,39.67 L1493.64,39.88 L1494.66,40.10 L1495.63,40.32 L1496.59,40.54 L1497.56,40.78 L1498.53,41.01 L1499.53,41.27 L1500.53,41.53 L1501.49,41.78 L1502.45,42.04 L1503.40,42.31 L1504.36,42.59 L1505.35,42.88 L1506.34,43.17 L1507.29,43.47 L1508.23,43.76 L1509.18,44.07 L1510.13,44.37 L1511.07,44.69 L1512.01,45.01 L1512.99,45.35 L1513.97,45.69 L1514.90,46.02 L1515.84,46.36 L1516.77,46.71 L1517.71,47.05 L1518.68,47.42 L1519.64,47.79 L1520.57,48.16 L1521.50,48.53 L1522.43,48.90 L1523.35,49.27 L1524.27,49.66 L1525.20,50.04 L1526.15,50.45 L1527.11,50.86 L1528.03,51.26 L1528.95,51.66 L1529.86,52.06 L1530.78,52.47 L1531.73,52.90 L1532.68,53.33 L1533.59,53.76 L1534.50,54.18 L1535.41,54.61 L1536.32,55.04 L1537.22,55.47 L1538.13,55.91 L1539.07,56.37 L1540.01,56.83 L1540.91,57.28 L1541.81,57.73 L1542.72,58.18 L1543.62,58.64 L1544.55,59.11 L1545.49,59.59 L1546.38,60.06 L1547.28,60.52 L1548.17,60.99 L1549.07,61.46 L1550.00,61.96 L1550.93,62.45 L1551.82,62.93 L1552.71,63.41 L1553.60,63.89 L1554.49,64.38 L1555.38,64.86 L1556.27,65.35 L1557.20,65.86 L1558.12,66.37 L1559.01,66.86 L1559.89,67.36 L1560.78,67.86 L1561.67,68.35 L1562.59,68.87 L1563.51,69.39 L1564.39,69.89 L1565.27,70.40 L1566.16,70.90 L1567.04,71.40 L1567.92,71.91 L1568.80,72.42 L1569.72,72.94 L1570.64,73.47 L1571.52,73.98 L1572.40,74.49 L1573.28,75.00 L1574.16,75.51 L1575.07,76.04 L1575.99,76.57 L1576.87,77.08 L1577.74,77.59 L1578.62,78.10 L1579.50,78.61 L1580.38,79.12 L1581.26,79.63 L1582.17,80.16 L1583.09,80.69 L1583.96,81.20 L1584.84,81.71 L1585.72,82.22 L1586.60,82.73 L1587.51,83.26 L1588.42,83.78 L1589.30,84.29 L1590.18,84.79 L1591.06,85.30 L1591.94,85.80 L1592.85,86.32 L1593.76,86.84 L1594.64,87.34 L1595.52,87.84 L1596.40,88.34 L1597.28,88.83 L1598.16,89.33 L1599.04,89.82 L1599.96,90.33 L1600.87,90.84 L1601.75,91.32 L1602.63,91.81 L1603.52,92.29 L1604.40,92.77 L1605.32,93.27 L1606.23,93.76 L1607.12,94.24 L1608.00,94.71 L1608.89,95.18 L1609.77,95.65 L1610.66,96.11 L1611.54,96.57 L1612.47,97.05 L1613.39,97.53 L1614.27,97.99 L1615.15,98.45 L1614.73,97.95 L1615.11,99.21 L1615.49,100.47 L1615.90,101.78 L1616.30,103.09 L1616.68,104.36 L1617.07,105.62 L1617.45,106.88 L1617.83,108.14 L1618.22,109.45 L1618.61,110.77 L1618.99,112.03 L1619.36,113.30 L1619.73,114.56 L1620.10,115.83 L1620.47,117.10 L1620.84,118.36 L1621.22,119.68 L1621.59,121.00 L1621.96,122.27 L1622.32,123.54 L1622.68,124.81 L1623.04,126.07 L1623.41,127.40 L1623.78,128.72 L1624.14,129.99 L1624.49,131.26 L1624.85,132.53 L1625.20,133.80 L1625.57,135.13 L1625.93,136.45 L1626.28,137.72 L1626.63,139.00 L1626.98,140.27 L1627.33,141.54 L1627.68,142.82 L1628.02,144.09 L1628.38,145.42 L1628.74,146.74 L1629.09,148.02 L1629.43,149.30 L1629.78,150.57 L1630.12,151.85 L1630.48,153.17 L1630.83,154.50 L1631.18,155.78 L1631.52,157.05 L1631.86,158.33 L1632.20,159.61 L1632.56,160.94 L1632.91,162.26 L1633.26,163.54 L1633.60,164.82 L1633.94,166.10 L1634.28,167.37 L1634.64,168.70 L1634.99,170.03 L1635.33,171.31 L1635.68,172.59 L1636.02,173.86 L1636.36,175.14 L1636.71,176.42 L1637.05,177.70 L1637.41,179.02 L1637.77,180.35 L1638.11,181.63 L1638.46,182.91 L1638.80,184.18 L1639.15,185.46 L1639.51,186.79 L1639.87,188.12 L1640.22,189.39 L1640.57,190.67 L1640.92,191.95 L1641.27,193.22 L1641.64,194.55 L1642.01,195.88 L1642.36,197.15 L1642.72,198.43 L1643.07,199.70 L1643.43,200.98 L1643.79,202.25 L1644.15,203.53 L1644.53,204.85 L1644.90,206.17 L1645.26,207.45 L1645.63,208.72 L1645.99,209.99 L1646.36,211.27 L1646.74,212.59 L1647.13,213.91 L1647.50,215.18 L1647.87,216.45 L1648.24,217.72 L1648.62,218.99 L1649.01,220.31 L1649.40,221.64 L1649.78,222.90 L1650.16,224.17 L1650.54,225.44 L1650.92,226.71 L1651.31,227.98 L1651.69,229.24 L1652.09,230.56 L1652.50,231.88 L1652.89,233.14 L1653.28,234.41 L1653.67,235.67 L1654.07,236.93 L1654.48,238.25 L1654.89,239.56 L1655.29,240.82 L1655.69,242.08 L1656.10,243.34 L1656.50,244.60 L1656.92,245.91 L1657.35,247.22 L1657.76,248.48 L1658.17,249.74 L1658.58,251.00 L1659.00,252.25 L1659.43,253.56 L1659.86,254.87 L1660.29,256.12 L1660.71,257.37 L1661.13,258.63 L1661.56,259.88 L1661.99,261.13 L1662.42,262.38 L1662.87,263.68 L1663.32,264.98 L1663.76,266.23 L1664.21,267.48 L1664.66,268.72 L1665.11,269.97 L1665.59,271.26 L1666.07,272.54 L1666.55,273.78 L1667.02,275.01 L1667.51,276.24 L1668.00,277.47 L1668.53,278.74 L1669.06,280.01 L1669.58,281.22 L1670.10,282.44 L1670.65,283.64 L1671.19,284.85 L1671.76,286.04 L1672.32,287.24 L1672.93,288.47 L1673.54,289.70 L1674.16,290.87 L1674.77,292.05 L1675.41,293.21 L1676.05,294.37 L1676.74,295.56 L1677.44,296.75 L1678.13,297.89 L1678.82,299.01 L1680.18,298.19 L1679.49,297.06 L1678.81,295.94 L1678.13,294.76 L1677.45,293.58 L1676.83,292.43 L1676.20,291.28 L1675.60,290.12 L1675.00,288.96 L1674.41,287.74 L1673.81,286.52 L1673.25,285.34 L1672.70,284.15 L1672.17,282.96 L1671.63,281.76 L1671.12,280.56 L1670.60,279.36 L1670.09,278.10 L1669.57,276.84 L1669.08,275.62 L1668.60,274.40 L1668.13,273.17 L1667.66,271.94 L1667.19,270.66 L1666.71,269.38 L1666.26,268.14 L1665.81,266.90 L1665.38,265.66 L1664.94,264.42 L1664.49,263.12 L1664.04,261.82 L1663.61,260.58 L1663.18,259.33 L1662.76,258.08 L1662.34,256.83 L1661.92,255.57 L1661.50,254.32 L1661.06,253.02 L1660.63,251.71 L1660.22,250.46 L1659.80,249.20 L1659.40,247.95 L1658.99,246.69 L1658.56,245.38 L1658.14,244.08 L1657.74,242.82 L1657.34,241.56 L1656.94,240.30 L1656.54,239.04 L1656.13,237.73 L1655.72,236.42 L1655.32,235.15 L1654.93,233.89 L1654.54,232.63 L1654.15,231.37 L1653.75,230.05 L1653.35,228.74 L1652.96,227.47 L1652.58,226.21 L1652.20,224.94 L1651.82,223.67 L1651.44,222.41 L1651.06,221.14 L1650.67,219.82 L1650.28,218.50 L1649.91,217.23 L1649.54,215.97 L1649.17,214.70 L1648.80,213.43 L1648.41,212.11 L1648.03,210.78 L1647.67,209.51 L1647.30,208.24 L1646.94,206.97 L1646.57,205.70 L1646.20,204.38 L1645.82,203.05 L1645.47,201.78 L1645.11,200.51 L1644.75,199.23 L1644.40,197.96 L1644.04,196.68 L1643.69,195.41 L1643.32,194.08 L1642.96,192.76 L1642.61,191.48 L1642.25,190.21 L1641.91,188.93 L1641.56,187.66 L1641.20,186.33 L1640.83,185.00 L1640.49,183.73 L1640.14,182.45 L1639.80,181.17 L1639.45,179.90 L1639.09,178.57 L1638.74,177.24 L1638.39,175.96 L1638.05,174.69 L1637.71,173.41 L1637.36,172.13 L1637.02,170.86 L1636.68,169.58 L1636.32,168.25 L1635.97,166.92 L1635.63,165.64 L1635.28,164.37 L1634.94,163.09 L1634.60,161.81 L1634.25,160.48 L1633.89,159.16 L1633.55,157.88 L1633.20,156.60 L1632.86,155.33 L1632.52,154.05 L1632.16,152.72 L1631.80,151.39 L1631.46,150.12 L1631.12,148.84 L1630.77,147.56 L1630.43,146.29 L1630.07,144.96 L1629.71,143.63 L1629.36,142.36 L1629.01,141.08 L1628.66,139.81 L1628.31,138.53 L1627.96,137.26 L1627.61,135.99 L1627.25,134.66 L1626.88,133.34 L1626.53,132.06 L1626.17,130.79 L1625.82,129.52 L1625.46,128.25 L1625.09,126.92 L1624.71,125.60 L1624.35,124.33 L1623.99,123.06 L1623.63,121.79 L1623.27,120.52 L1622.89,119.20 L1622.51,117.88 L1622.14,116.61 L1621.77,115.34 L1621.40,114.07 L1621.02,112.81 L1620.65,111.54 L1620.27,110.27 L1619.88,108.96 L1619.49,107.64 L1619.11,106.38 L1618.72,105.11 L1618.34,103.85 L1617.95,102.59 L1617.55,101.28 L1617.15,99.96 L1616.74,98.70 L1616.34,97.45 L1615.91,96.95 L1615.02,96.51 L1614.13,96.07 L1613.21,95.60 L1612.29,95.13 L1611.41,94.67 L1610.53,94.21 L1609.65,93.74 L1608.76,93.28 L1607.88,92.81 L1607.00,92.34 L1606.09,91.84 L1605.17,91.35 L1604.29,90.87 L1603.41,90.39 L1602.53,89.91 L1601.65,89.42 L1600.74,88.92 L1599.82,88.41 L1598.95,87.92 L1598.07,87.43 L1597.19,86.94 L1596.31,86.44 L1595.43,85.94 L1594.56,85.45 L1593.64,84.93 L1592.73,84.41 L1591.85,83.91 L1590.98,83.40 L1590.10,82.90 L1589.22,82.40 L1588.31,81.87 L1587.40,81.34 L1586.52,80.84 L1585.64,80.33 L1584.77,79.82 L1583.89,79.31 L1582.97,78.78 L1582.06,78.25 L1581.18,77.74 L1580.30,77.23 L1579.43,76.72 L1578.55,76.21 L1577.67,75.70 L1576.79,75.19 L1575.87,74.66 L1574.96,74.12 L1574.08,73.61 L1573.20,73.10 L1572.32,72.59 L1571.44,72.08 L1570.52,71.56 L1569.60,71.03 L1568.72,70.52 L1567.84,70.01 L1566.95,69.51 L1566.07,69.00 L1565.18,68.50 L1564.30,67.99 L1563.38,67.47 L1562.46,66.95 L1561.57,66.45 L1560.68,65.95 L1559.79,65.46 L1558.90,64.96 L1557.98,64.45 L1557.05,63.94 L1556.16,63.45 L1555.27,62.96 L1554.38,62.47 L1553.48,61.98 L1552.59,61.50 L1551.69,61.02 L1550.76,60.52 L1549.83,60.03 L1548.93,59.55 L1548.03,59.08 L1547.13,58.61 L1546.23,58.14 L1545.30,57.66 L1544.36,57.18 L1543.45,56.72 L1542.55,56.26 L1541.64,55.81 L1540.74,55.36 L1539.79,54.89 L1538.85,54.43 L1537.94,53.99 L1537.03,53.55 L1536.11,53.11 L1535.20,52.68 L1534.29,52.25 L1533.37,51.83 L1532.42,51.39 L1531.46,50.95 L1530.54,50.54 L1529.62,50.13 L1528.70,49.72 L1527.77,49.32 L1526.81,48.91 L1525.85,48.49 L1524.92,48.11 L1523.99,47.72 L1523.06,47.34 L1522.13,46.96 L1521.19,46.59 L1520.26,46.22 L1519.28,45.84 L1518.31,45.46 L1517.37,45.11 L1516.43,44.76 L1515.48,44.42 L1514.54,44.07 L1513.55,43.73 L1512.57,43.38 L1511.62,43.06 L1510.67,42.74 L1509.71,42.43 L1508.76,42.12 L1507.80,41.82 L1506.84,41.52 L1505.84,41.22 L1504.84,40.92 L1503.88,40.64 L1502.91,40.37 L1501.94,40.10 L1500.98,39.84 L1499.96,39.57 L1498.95,39.31 L1497.98,39.07 L1497.00,38.83 L1496.02,38.61 L1495.04,38.38 L1494.02,38.16 L1492.99,37.94 L1492.00,37.74 L1491.01,37.54 L1490.02,37.35 L1489.03,37.17 L1488.03,36.99 L1487.04,36.82 L1486.00,36.66 L1484.95,36.50 L1483.95,36.35 L1482.94,36.21 L1481.93,36.09 L1480.92,35.96 L1479.87,35.84 L1478.81,35.73 L1477.79,35.63 L1476.78,35.54 L1475.75,35.46 L1474.73,35.38 L1473.70,35.32 L1472.67,35.25 L1471.60,35.21 L1470.44,35.18 L1469.25,35.40 L1467.86,35.70 L1466.94,36.77 L1466.23,37.66 L1465.51,38.54 L1464.76,39.45 L1464.01,40.35 L1463.26,41.27 L1462.54,42.15 L1461.83,43.03 L1461.12,43.91 L1460.42,44.80 L1459.71,45.69 L1459.01,46.58 L1458.32,47.47 L1457.62,48.37 L1456.93,49.26 L1456.22,50.20 L1455.51,51.13 L1454.80,52.07 L1454.12,52.98 L1453.45,53.89 L1452.77,54.79 L1452.10,55.71 L1451.44,56.62 L1450.77,57.53 L1450.08,58.49 L1449.40,59.44 L1448.71,60.39 L1448.06,61.32 L1447.41,62.24 L1446.76,63.17 L1446.12,64.09 L1445.48,65.02 L1444.83,65.95 L1444.20,66.89 L1443.56,67.82 L1442.93,68.75 L1442.27,69.73 L1441.62,70.70 L1440.96,71.68 L1440.34,72.62 L1439.72,73.56 L1439.10,74.51 L1438.48,75.45 L1437.87,76.40 L1437.25,77.35 L1436.62,78.34 L1435.99,79.32 L1435.35,80.31 L1434.75,81.27 L1434.15,82.22 L1433.55,83.18 L1432.95,84.14 L1432.35,85.10 L1431.75,86.06 L1431.14,87.06 L1430.52,88.06 L1429.91,89.06 L1429.32,90.03 L1428.73,90.99 L1428.15,91.96 L1427.56,92.93 L1426.98,93.90 L1426.40,94.87 L1425.82,95.84 L1425.25,96.81 L1424.67,97.78 L1424.07,98.80 L1423.48,99.81 L1422.88,100.82 L1422.31,101.80 L1421.74,102.78 L1421.18,103.75 L1420.61,104.74 L1420.04,105.71 L1419.48,106.69 L1418.89,107.72 L1418.31,108.74 L1417.73,109.76 L1417.17,110.74 L1416.61,111.73 L1416.05,112.71 L1415.50,113.70 L1414.94,114.68 L1414.38,115.67 L1413.83,116.66 L1413.28,117.64 L1412.72,118.63 L1412.15,119.66 L1411.58,120.69 L1411.01,121.72 L1410.46,122.71 L1409.91,123.70 L1409.36,124.69 L1408.81,125.68 L1408.27,126.67 L1407.72,127.66 L1407.15,128.69 L1406.58,129.72 L1406.02,130.76 L1405.47,131.75 L1404.93,132.74 L1404.38,133.73 L1403.84,134.73 L1403.30,135.72 L1402.75,136.71 L1402.21,137.71 L1401.67,138.70 L1401.13,139.69 L1400.56,140.73 L1400.00,141.76 L1399.43,142.79 L1398.89,143.79 L1398.35,144.78 L1397.81,145.77 L1397.27,146.77 L1396.72,147.76 L1396.18,148.75 L1395.62,149.79 L1395.05,150.82 L1394.49,151.85 L1393.94,152.84 L1393.40,153.84 L1392.86,154.83 L1392.31,155.82 L1391.77,156.81 L1391.22,157.80 L1390.65,158.83 L1390.09,159.86 L1389.52,160.89 L1388.97,161.88 L1388.42,162.87 L1387.87,163.85 L1387.33,164.84 L1386.78,165.83 L1386.23,166.82 L1385.67,167.80 L1385.12,168.79 L1384.57,169.77 L1383.99,170.79 L1383.42,171.82 L1382.84,172.84 L1382.28,173.82 L1381.72,174.80 L1381.17,175.78 L1380.61,176.76 L1380.05,177.74 L1379.49,178.72 L1378.90,179.74 L1378.31,180.75 L1377.73,181.77 L1377.16,182.74 L1376.59,183.72 L1376.02,184.69 L1375.45,185.66 L1374.88,186.63 L1374.31,187.60 L1373.73,188.57 L1373.16,189.54 L1372.58,190.50 L1371.98,191.51 L1371.37,192.51 L1370.77,193.51 L1370.19,194.47 L1369.60,195.43 L1369.01,196.39 L1368.42,197.35 L1367.83,198.31 L1367.24,199.26 L1366.62,200.25 L1366.00,201.25 L1365.38,202.24 L1364.78,203.18 L1364.18,204.13 L1363.58,205.08 L1362.97,206.03 L1362.36,206.97 L1361.75,207.92 L1361.14,208.85 L1360.53,209.80 L1359.91,210.73 L1359.27,211.71 L1358.62,212.68 L1357.97,213.65 L1357.35,214.58 L1356.72,215.51 L1356.09,216.44 L1355.46,217.36 L1354.82,218.29 L1354.19,219.21 L1353.52,220.17 L1352.85,221.13 L1352.18,222.08 L1351.53,223.00 L1350.88,223.91 L1350.23,224.82 L1349.57,225.73 L1348.91,226.64 L1348.25,227.55 L1347.56,228.48 L1346.87,229.42 L1346.17,230.36 L1345.50,231.26 L1344.82,232.15 L1344.15,233.05 L1343.46,233.94 L1342.78,234.83 L1342.09,235.72 L1341.40,236.60 L1340.70,237.48 L1340.01,238.36 L1339.28,239.27 L1338.55,240.19 L1337.81,241.10 L1337.10,241.96 L1336.39,242.83 L1335.67,243.70 L1334.95,244.56 L1334.23,245.43 L1333.50,246.29 L1332.74,247.17 L1331.97,248.07 L1331.21,248.95 L1330.47,249.80 L1329.72,250.65 L1328.98,251.49 L1328.22,252.33 L1327.46,253.17 L1326.71,254.01 L1325.94,254.84 L1325.17,255.67 L1324.41,256.50 L1323.60,257.35 L1322.78,258.21 L1321.97,259.07 L1321.18,259.88 L1320.38,260.68 L1319.57,261.48 L1319.43,261.63 L1318.89,262.57 L1318.33,263.57 L1317.80,264.55 L1317.28,265.55 L1316.74,266.61 L1316.22,267.65 L1315.70,268.69 L1315.18,269.75 L1314.63,270.86 L1314.11,271.94 L1313.58,273.02 L1313.03,274.16 L1312.49,275.26 L1311.95,276.36 L1311.39,277.51 L1310.84,278.62 L1310.28,279.73 L1309.72,280.84 L1309.13,282.00 L1308.56,283.11 L1307.97,284.21 L1307.36,285.35 L1306.76,286.45 L1306.15,287.53 L1305.51,288.65 L1304.88,289.72 L1304.24,290.78 L1303.57,291.87 L1302.90,292.90 L1302.23,293.92 L1301.54,294.93 L1300.82,295.95 L1300.10,296.92 L1299.38,297.88 L1298.61,298.85 L1297.85,299.76 L1297.08,300.65 L1296.26,301.54 L1295.45,302.38 L1294.62,303.19 L1293.77,303.96 L1292.87,304.74 L1291.98,305.45 L1291.07,306.14 L1290.11,306.81 L1289.17,307.43 L1288.20,308.01 L1287.18,308.59 L1286.18,309.10 L1285.15,309.57 L1284.11,310.01 L1283.00,310.42 L1281.91,310.77 L1280.82,311.07 L1279.67,311.32 L1278.57,311.50 L1277.47,311.61 L1276.32,311.65 L1275.22,311.61 L1274.12,311.51 L1272.98,311.32 L1271.89,311.06 L1270.81,310.74 L1269.75,310.34 L1268.66,309.86 L1267.62,309.32 L1266.61,308.72 L1265.58,308.02 L1264.61,307.30 L1263.67,306.52 L1262.73,305.67 L1261.85,304.81 L1261.02,303.91 L1260.22,302.99 L1259.43,302.01 L1258.71,301.06 L1258.03,300.11 L1257.36,299.12 L1256.75,298.18Z" fill="#000" stroke="#000" stroke-width="0.15" stroke-linejoin="round" clip-path="url(#clipc)"/>
<text transform="translate(1249.4,21.7) scale(1.015,1)" font-size="27.7" text-anchor="end" fill="#000" stroke="#000" stroke-width="0.25">1.0</text>
<text transform="translate(1249.4,89.88) scale(1.015,1)" font-size="27.7" text-anchor="end" fill="#000" stroke="#000" stroke-width="0.25">0.5</text>
<text transform="translate(1249.4,158.06) scale(1.015,1)" font-size="27.7" text-anchor="end" fill="#000" stroke="#000" stroke-width="0.25">0.0</text>
<text transform="translate(1249.4,226.24) scale(1.015,1)" font-size="27.7" text-anchor="end" fill="#000" stroke="#000" stroke-width="0.25">-0.5</text>
<text transform="translate(1249.4,294.42) scale(1.015,1)" font-size="27.7" text-anchor="end" fill="#000" stroke="#000" stroke-width="0.25">-1.0</text>
<text transform="translate(1249.4,362.6) scale(1.015,1)" font-size="27.7" text-anchor="end" fill="#000" stroke="#000" stroke-width="0.25">-1.5</text>
<text transform="translate(1256.5,383.7) scale(1.015,1)" font-size="27.7" text-anchor="middle" fill="#000" stroke="#000" stroke-width="0.25">-0.5</text>
<text transform="translate(1468.75,383.7) scale(1.015,1)" font-size="27.7" text-anchor="middle" fill="#000" stroke="#000" stroke-width="0.25">0.0</text>
<text transform="translate(1679.9,383.7) scale(1.015,1)" font-size="27.7" text-anchor="middle" fill="#000" stroke="#000" stroke-width="0.25">0.5</text>
<text transform="translate(1467.55,419) scale(0.996,1)" font-size="31.1" text-anchor="middle" fill="#000" stroke="#000" stroke-width="0.1">Position x/Λ</text>
<text transform="translate(1191.4,184.2) rotate(-90) scale(0.996,1)" font-size="31.1" text-anchor="middle" fill="#000" stroke="#000" stroke-width="0.1">Magnetic field real(H<tspan font-size="22" dy="7.7">n0</tspan><tspan dy="-7.7">)</tspan></text>
<text transform="translate(1468.45,296.9) scale(1.02,1)" font-size="35.5" text-anchor="middle" fill="#000" stroke="#000" stroke-width="0.25">(c)</text>
</svg>
</body>
</html>
